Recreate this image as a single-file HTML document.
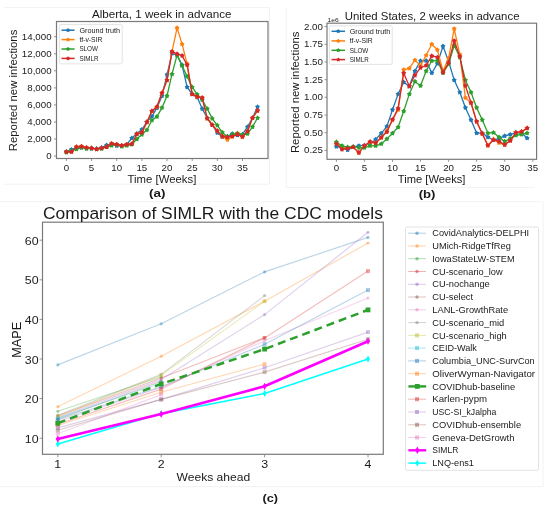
<!DOCTYPE html>
<html><head><meta charset="utf-8"><title>SIMLR figure</title>
<style>
html,body{margin:0;padding:0;background:#fff;}
body{width:550px;height:507px;overflow:hidden;font-family:"Liberation Sans", sans-serif;}
svg{display:block;filter:blur(0.3px);}
</style></head><body>
<svg width="550" height="507" viewBox="0 0 550 507" font-family='"Liberation Sans", sans-serif'>
<rect width="550" height="507" fill="#ffffff"/>
<g stroke="#f0f0f0" stroke-width="0.9" fill="none">
<line x1="4" y1="7.6" x2="269.5" y2="7.6"/>
<line x1="269.5" y1="7.6" x2="269.5" y2="184"/>
<line x1="4" y1="184.2" x2="269.5" y2="184.2"/>
<line x1="286.3" y1="7.6" x2="286.3" y2="187.5"/>
<line x1="286.3" y1="187.5" x2="535" y2="187.5"/>
<line x1="0" y1="201.7" x2="541" y2="201.7"/>
<line x1="0" y1="486.6" x2="543" y2="486.6"/>
<line x1="543" y1="201.7" x2="543" y2="486.6"/>
</g>
<defs>
<clipPath id="clipA"><rect x="56.5" y="21.5" width="211.5" height="137.0"/></clipPath>
<clipPath id="clipB"><rect x="327.0" y="23.2" width="209.60000000000002" height="136.10000000000002"/></clipPath>
<clipPath id="clipC"><rect x="42.5" y="222.2" width="340.8" height="232.10000000000002"/></clipPath>
</defs>
<g clip-path="url(#clipA)">
<polyline points="66.4,151.5 71.4,149.5 76.5,147.6 81.5,147.6 86.5,148.2 91.6,148.7 96.6,148.7 101.6,147.6 106.6,145.1 111.7,144.0 116.7,145.8 121.7,145.8 126.8,144.5 131.8,138.2 136.8,133.6 141.9,129.5 146.9,121.8 151.9,116.3 156.9,107.9 162.0,95.9 167.0,74.8 172.0,53.4 177.1,55.1 182.1,65.1 187.1,87.1 192.2,94.0 197.2,97.3 202.2,108.8 207.2,118.0 212.3,125.0 217.3,132.8 222.3,136.8 227.4,136.4 232.4,133.8 237.4,135.2 242.5,134.4 247.5,126.9 252.5,118.0 257.5,106.8" fill="none" stroke="#1f77b4" stroke-width="1.3" stroke-linejoin="round" stroke-linecap="round"/>
<polygon points="66.40,148.90 67.44,150.07 68.87,150.69 68.08,152.04 67.93,153.60 66.40,153.26 64.87,153.60 64.72,152.04 63.93,150.69 65.36,150.07" fill="#1f77b4"/>
<polygon points="71.43,146.94 72.47,148.11 73.90,148.73 73.11,150.08 72.96,151.64 71.43,151.30 69.90,151.64 69.75,150.08 68.96,148.73 70.39,148.11" fill="#1f77b4"/>
<polygon points="76.46,144.97 77.50,146.14 78.93,146.77 78.14,148.12 77.99,149.68 76.46,149.34 74.93,149.68 74.78,148.12 73.99,146.77 75.42,146.14" fill="#1f77b4"/>
<polygon points="81.49,144.97 82.53,146.14 83.96,146.77 83.17,148.12 83.02,149.68 81.49,149.34 79.96,149.68 79.81,148.12 79.02,146.77 80.45,146.14" fill="#1f77b4"/>
<polygon points="86.52,145.57 87.56,146.74 88.99,147.37 88.20,148.72 88.05,150.28 86.52,149.94 84.99,150.28 84.84,148.72 84.05,147.37 85.48,146.74" fill="#1f77b4"/>
<polygon points="91.55,146.08 92.59,147.25 94.02,147.88 93.23,149.23 93.08,150.79 91.55,150.45 90.02,150.79 89.87,149.23 89.08,147.88 90.51,147.25" fill="#1f77b4"/>
<polygon points="96.58,146.08 97.62,147.25 99.05,147.88 98.26,149.23 98.11,150.79 96.58,150.45 95.05,150.79 94.90,149.23 94.11,147.88 95.54,147.25" fill="#1f77b4"/>
<polygon points="101.61,144.97 102.65,146.14 104.08,146.77 103.29,148.12 103.14,149.68 101.61,149.34 100.08,149.68 99.93,148.12 99.14,146.77 100.57,146.14" fill="#1f77b4"/>
<polygon points="106.64,142.50 107.68,143.67 109.11,144.30 108.32,145.65 108.17,147.21 106.64,146.87 105.11,147.21 104.96,145.65 104.17,144.30 105.60,143.67" fill="#1f77b4"/>
<polygon points="111.67,141.39 112.71,142.56 114.14,143.19 113.35,144.54 113.20,146.10 111.67,145.76 110.14,146.10 109.99,144.54 109.20,143.19 110.63,142.56" fill="#1f77b4"/>
<polygon points="116.70,143.18 117.74,144.35 119.17,144.98 118.38,146.33 118.23,147.89 116.70,147.55 115.17,147.89 115.02,146.33 114.23,144.98 115.66,144.35" fill="#1f77b4"/>
<polygon points="121.73,143.18 122.77,144.35 124.20,144.98 123.41,146.33 123.26,147.89 121.73,147.55 120.20,147.89 120.05,146.33 119.26,144.98 120.69,144.35" fill="#1f77b4"/>
<polygon points="126.76,141.91 127.80,143.08 129.23,143.70 128.44,145.05 128.29,146.61 126.76,146.27 125.23,146.61 125.08,145.05 124.29,143.70 125.72,143.08" fill="#1f77b4"/>
<polygon points="131.79,135.60 132.83,136.77 134.26,137.39 133.47,138.74 133.32,140.30 131.79,139.97 130.26,140.30 130.11,138.74 129.32,137.39 130.75,136.77" fill="#1f77b4"/>
<polygon points="136.82,130.99 137.86,132.16 139.29,132.79 138.50,134.14 138.35,135.70 136.82,135.36 135.29,135.70 135.14,134.14 134.35,132.79 135.78,132.16" fill="#1f77b4"/>
<polygon points="141.85,126.90 142.89,128.07 144.32,128.70 143.53,130.05 143.38,131.61 141.85,131.27 140.32,131.61 140.17,130.05 139.38,128.70 140.81,128.07" fill="#1f77b4"/>
<polygon points="146.88,119.23 147.92,120.40 149.35,121.03 148.56,122.38 148.41,123.93 146.88,123.60 145.35,123.93 145.20,122.38 144.41,121.03 145.84,120.40" fill="#1f77b4"/>
<polygon points="151.91,113.69 152.95,114.86 154.38,115.48 153.59,116.83 153.44,118.39 151.91,118.06 150.38,118.39 150.23,116.83 149.44,115.48 150.87,114.86" fill="#1f77b4"/>
<polygon points="156.94,105.33 157.98,106.50 159.41,107.13 158.62,108.48 158.47,110.04 156.94,109.70 155.41,110.04 155.26,108.48 154.47,107.13 155.90,106.50" fill="#1f77b4"/>
<polygon points="161.97,93.31 163.01,94.48 164.44,95.11 163.65,96.46 163.50,98.02 161.97,97.68 160.44,98.02 160.29,96.46 159.50,95.11 160.93,94.48" fill="#1f77b4"/>
<polygon points="167.00,72.17 168.04,73.34 169.47,73.97 168.68,75.32 168.53,76.87 167.00,76.54 165.47,76.87 165.32,75.32 164.53,73.97 165.96,73.34" fill="#1f77b4"/>
<polygon points="172.03,50.77 173.07,51.94 174.50,52.57 173.71,53.92 173.56,55.48 172.03,55.14 170.50,55.48 170.35,53.92 169.56,52.57 170.99,51.94" fill="#1f77b4"/>
<polygon points="177.06,52.48 178.10,53.65 179.53,54.28 178.74,55.63 178.59,57.18 177.06,56.85 175.53,57.18 175.38,55.63 174.59,54.28 176.02,53.65" fill="#1f77b4"/>
<polygon points="182.09,62.45 183.13,63.62 184.56,64.25 183.77,65.60 183.62,67.16 182.09,66.82 180.56,67.16 180.41,65.60 179.62,64.25 181.05,63.62" fill="#1f77b4"/>
<polygon points="187.12,84.53 188.16,85.70 189.59,86.33 188.80,87.68 188.65,89.24 187.12,88.90 185.59,89.24 185.44,87.68 184.65,86.33 186.08,85.70" fill="#1f77b4"/>
<polygon points="192.15,91.44 193.19,92.61 194.62,93.23 193.83,94.58 193.68,96.14 192.15,95.81 190.62,96.14 190.47,94.58 189.68,93.23 191.11,92.61" fill="#1f77b4"/>
<polygon points="197.18,94.68 198.22,95.85 199.65,96.47 198.86,97.82 198.71,99.38 197.18,99.05 195.65,99.38 195.50,97.82 194.71,96.47 196.14,95.85" fill="#1f77b4"/>
<polygon points="202.21,106.19 203.25,107.36 204.68,107.98 203.89,109.33 203.74,110.89 202.21,110.55 200.68,110.89 200.53,109.33 199.74,107.98 201.17,107.36" fill="#1f77b4"/>
<polygon points="207.24,115.39 208.28,116.56 209.71,117.19 208.92,118.54 208.77,120.10 207.24,119.76 205.71,120.10 205.56,118.54 204.77,117.19 206.20,116.56" fill="#1f77b4"/>
<polygon points="212.27,122.38 213.31,123.55 214.74,124.18 213.95,125.53 213.80,127.09 212.27,126.75 210.74,127.09 210.59,125.53 209.80,124.18 211.23,123.55" fill="#1f77b4"/>
<polygon points="217.30,130.23 218.34,131.40 219.77,132.02 218.98,133.37 218.83,134.93 217.30,134.59 215.77,134.93 215.62,133.37 214.83,132.02 216.26,131.40" fill="#1f77b4"/>
<polygon points="222.33,134.23 223.37,135.40 224.80,136.03 224.01,137.38 223.86,138.94 222.33,138.60 220.80,138.94 220.65,137.38 219.86,136.03 221.29,135.40" fill="#1f77b4"/>
<polygon points="227.36,133.81 228.40,134.98 229.83,135.60 229.04,136.95 228.89,138.51 227.36,138.18 225.83,138.51 225.68,136.95 224.89,135.60 226.32,134.98" fill="#1f77b4"/>
<polygon points="232.39,131.16 233.43,132.33 234.86,132.96 234.07,134.31 233.92,135.87 232.39,135.53 230.86,135.87 230.71,134.31 229.92,132.96 231.35,132.33" fill="#1f77b4"/>
<polygon points="237.42,132.61 238.46,133.78 239.89,134.41 239.10,135.76 238.95,137.32 237.42,136.98 235.89,137.32 235.74,135.76 234.95,134.41 236.38,133.78" fill="#1f77b4"/>
<polygon points="242.45,131.76 243.49,132.93 244.92,133.56 244.13,134.91 243.98,136.46 242.45,136.13 240.92,136.46 240.77,134.91 239.98,133.56 241.41,132.93" fill="#1f77b4"/>
<polygon points="247.48,124.26 248.52,125.43 249.95,126.06 249.16,127.41 249.01,128.96 247.48,128.63 245.95,128.96 245.80,127.41 245.01,126.06 246.44,125.43" fill="#1f77b4"/>
<polygon points="252.51,115.39 253.55,116.56 254.98,117.19 254.19,118.54 254.04,120.10 252.51,119.76 250.98,120.10 250.83,118.54 250.04,117.19 251.47,116.56" fill="#1f77b4"/>
<polygon points="257.54,104.23 258.58,105.40 260.01,106.02 259.22,107.37 259.07,108.93 257.54,108.59 256.01,108.93 255.86,107.37 255.07,106.02 256.50,105.40" fill="#1f77b4"/>
<polyline points="66.4,151.8 71.4,151.8 76.5,146.9 81.5,146.4 86.5,147.6 91.6,148.2 96.6,149.1 101.6,148.2 106.6,146.9 111.7,143.6 116.7,144.5 121.7,145.5 126.8,144.5 131.8,144.0 136.8,134.2 141.9,132.4 146.9,122.2 151.9,111.1 156.9,106.8 162.0,93.0 167.0,80.2 172.0,51.6 177.1,27.9 182.1,44.1 187.1,63.8 192.2,94.2 197.2,96.8 202.2,97.8 207.2,118.4 212.3,125.0 217.3,130.9 222.3,136.4 227.4,139.7 232.4,136.4 237.4,133.2 242.5,136.8 247.5,131.3 252.5,118.0 257.5,110.7" fill="none" stroke="#ff7f0e" stroke-width="1.3" stroke-linejoin="round" stroke-linecap="round"/>
<polygon points="66.40,149.24 67.44,150.41 68.87,151.03 68.08,152.38 67.93,153.94 66.40,153.61 64.87,153.94 64.72,152.38 63.93,151.03 65.36,150.41" fill="#ff7f0e"/>
<polygon points="71.43,149.24 72.47,150.41 73.90,151.03 73.11,152.38 72.96,153.94 71.43,153.61 69.90,153.94 69.75,152.38 68.96,151.03 70.39,150.41" fill="#ff7f0e"/>
<polygon points="76.46,144.29 77.50,145.46 78.93,146.09 78.14,147.44 77.99,149.00 76.46,148.66 74.93,149.00 74.78,147.44 73.99,146.09 75.42,145.46" fill="#ff7f0e"/>
<polygon points="81.49,143.78 82.53,144.95 83.96,145.58 83.17,146.93 83.02,148.48 81.49,148.15 79.96,148.48 79.81,146.93 79.02,145.58 80.45,144.95" fill="#ff7f0e"/>
<polygon points="86.52,144.97 87.56,146.14 88.99,146.77 88.20,148.12 88.05,149.68 86.52,149.34 84.99,149.68 84.84,148.12 84.05,146.77 85.48,146.14" fill="#ff7f0e"/>
<polygon points="91.55,145.57 92.59,146.74 94.02,147.37 93.23,148.72 93.08,150.28 91.55,149.94 90.02,150.28 89.87,148.72 89.08,147.37 90.51,146.74" fill="#ff7f0e"/>
<polygon points="96.58,146.51 97.62,147.68 99.05,148.31 98.26,149.66 98.11,151.21 96.58,150.88 95.05,151.21 94.90,149.66 94.11,148.31 95.54,147.68" fill="#ff7f0e"/>
<polygon points="101.61,145.57 102.65,146.74 104.08,147.37 103.29,148.72 103.14,150.28 101.61,149.94 100.08,150.28 99.93,148.72 99.14,147.37 100.57,146.74" fill="#ff7f0e"/>
<polygon points="106.64,144.29 107.68,145.46 109.11,146.09 108.32,147.44 108.17,149.00 106.64,148.66 105.11,149.00 104.96,147.44 104.17,146.09 105.60,145.46" fill="#ff7f0e"/>
<polygon points="111.67,140.97 112.71,142.14 114.14,142.76 113.35,144.11 113.20,145.67 111.67,145.34 110.14,145.67 109.99,144.11 109.20,142.76 110.63,142.14" fill="#ff7f0e"/>
<polygon points="116.70,141.91 117.74,143.08 119.17,143.70 118.38,145.05 118.23,146.61 116.70,146.27 115.17,146.61 115.02,145.05 114.23,143.70 115.66,143.08" fill="#ff7f0e"/>
<polygon points="121.73,142.93 122.77,144.10 124.20,144.73 123.41,146.08 123.26,147.63 121.73,147.30 120.20,147.63 120.05,146.08 119.26,144.73 120.69,144.10" fill="#ff7f0e"/>
<polygon points="126.76,141.91 127.80,143.08 129.23,143.70 128.44,145.05 128.29,146.61 126.76,146.27 125.23,146.61 125.08,145.05 124.29,143.70 125.72,143.08" fill="#ff7f0e"/>
<polygon points="131.79,141.39 132.83,142.56 134.26,143.19 133.47,144.54 133.32,146.10 131.79,145.76 130.26,146.10 130.11,144.54 129.32,143.19 130.75,142.56" fill="#ff7f0e"/>
<polygon points="136.82,131.59 137.86,132.76 139.29,133.39 138.50,134.74 138.35,136.29 136.82,135.96 135.29,136.29 135.14,134.74 134.35,133.39 135.78,132.76" fill="#ff7f0e"/>
<polygon points="141.85,129.80 142.89,130.97 144.32,131.60 143.53,132.95 143.38,134.50 141.85,134.17 140.32,134.50 140.17,132.95 139.38,131.60 140.81,130.97" fill="#ff7f0e"/>
<polygon points="146.88,119.57 147.92,120.74 149.35,121.37 148.56,122.72 148.41,124.27 146.88,123.94 145.35,124.27 145.20,122.72 144.41,121.37 145.84,120.74" fill="#ff7f0e"/>
<polygon points="151.91,108.49 152.95,109.66 154.38,110.28 153.59,111.63 153.44,113.19 151.91,112.86 150.38,113.19 150.23,111.63 149.44,110.28 150.87,109.66" fill="#ff7f0e"/>
<polygon points="156.94,104.23 157.98,105.40 159.41,106.02 158.62,107.37 158.47,108.93 156.94,108.59 155.41,108.93 155.26,107.37 154.47,106.02 155.90,105.40" fill="#ff7f0e"/>
<polygon points="161.97,90.41 163.01,91.58 164.44,92.21 163.65,93.56 163.50,95.12 161.97,94.78 160.44,95.12 160.29,93.56 159.50,92.21 160.93,91.58" fill="#ff7f0e"/>
<polygon points="167.00,77.63 168.04,78.80 169.47,79.42 168.68,80.77 168.53,82.33 167.00,82.00 165.47,82.33 165.32,80.77 164.53,79.42 165.96,78.80" fill="#ff7f0e"/>
<polygon points="172.03,48.98 173.07,50.15 174.50,50.78 173.71,52.13 173.56,53.69 172.03,53.35 170.50,53.69 170.35,52.13 169.56,50.78 170.99,50.15" fill="#ff7f0e"/>
<polygon points="177.06,25.28 178.10,26.45 179.53,27.08 178.74,28.43 178.59,29.99 177.06,29.65 175.53,29.99 175.38,28.43 174.59,27.08 176.02,26.45" fill="#ff7f0e"/>
<polygon points="182.09,41.48 183.13,42.65 184.56,43.28 183.77,44.63 183.62,46.18 182.09,45.85 180.56,46.18 180.41,44.63 179.62,43.28 181.05,42.65" fill="#ff7f0e"/>
<polygon points="187.12,61.17 188.16,62.34 189.59,62.97 188.80,64.32 188.65,65.88 187.12,65.54 185.59,65.88 185.44,64.32 184.65,62.97 186.08,62.34" fill="#ff7f0e"/>
<polygon points="192.15,91.61 193.19,92.78 194.62,93.41 193.83,94.75 193.68,96.31 192.15,95.98 190.62,96.31 190.47,94.75 189.68,93.41 191.11,92.78" fill="#ff7f0e"/>
<polygon points="197.18,94.17 198.22,95.34 199.65,95.96 198.86,97.31 198.71,98.87 197.18,98.53 195.65,98.87 195.50,97.31 194.71,95.96 196.14,95.34" fill="#ff7f0e"/>
<polygon points="202.21,95.19 203.25,96.36 204.68,96.99 203.89,98.34 203.74,99.89 202.21,99.56 200.68,99.89 200.53,98.34 199.74,96.99 201.17,96.36" fill="#ff7f0e"/>
<polygon points="207.24,115.82 208.28,116.99 209.71,117.62 208.92,118.97 208.77,120.52 207.24,120.19 205.71,120.52 205.56,118.97 204.77,117.62 206.20,116.99" fill="#ff7f0e"/>
<polygon points="212.27,122.38 213.31,123.55 214.74,124.18 213.95,125.53 213.80,127.09 212.27,126.75 210.74,127.09 210.59,125.53 209.80,124.18 211.23,123.55" fill="#ff7f0e"/>
<polygon points="217.30,128.27 218.34,129.44 219.77,130.06 218.98,131.41 218.83,132.97 217.30,132.63 215.77,132.97 215.62,131.41 214.83,130.06 216.26,129.44" fill="#ff7f0e"/>
<polygon points="222.33,133.81 223.37,134.98 224.80,135.60 224.01,136.95 223.86,138.51 222.33,138.18 220.80,138.51 220.65,136.95 219.86,135.60 221.29,134.98" fill="#ff7f0e"/>
<polygon points="227.36,137.13 228.40,138.30 229.83,138.93 229.04,140.28 228.89,141.84 227.36,141.50 225.83,141.84 225.68,140.28 224.89,138.93 226.32,138.30" fill="#ff7f0e"/>
<polygon points="232.39,133.81 233.43,134.98 234.86,135.60 234.07,136.95 233.92,138.51 232.39,138.18 230.86,138.51 230.71,136.95 229.92,135.60 231.35,134.98" fill="#ff7f0e"/>
<polygon points="237.42,130.57 238.46,131.74 239.89,132.36 239.10,133.71 238.95,135.27 237.42,134.94 235.89,135.27 235.74,133.71 234.95,132.36 236.38,131.74" fill="#ff7f0e"/>
<polygon points="242.45,134.23 243.49,135.40 244.92,136.03 244.13,137.38 243.98,138.94 242.45,138.60 240.92,138.94 240.77,137.38 239.98,136.03 241.41,135.40" fill="#ff7f0e"/>
<polygon points="247.48,128.69 248.52,129.86 249.95,130.49 249.16,131.84 249.01,133.40 247.48,133.06 245.95,133.40 245.80,131.84 245.01,130.49 246.44,129.86" fill="#ff7f0e"/>
<polygon points="252.51,115.39 253.55,116.56 254.98,117.19 254.19,118.54 254.04,120.10 252.51,119.76 250.98,120.10 250.83,118.54 250.04,117.19 251.47,116.56" fill="#ff7f0e"/>
<polygon points="257.54,108.06 258.58,109.23 260.01,109.86 259.22,111.21 259.07,112.77 257.54,112.43 256.01,112.77 255.86,111.21 255.07,109.86 256.50,109.23" fill="#ff7f0e"/>
<polyline points="66.4,152.4 71.4,150.9 76.5,149.1 81.5,147.6 86.5,148.7 91.6,148.2 96.6,149.1 101.6,148.7 106.6,146.9 111.7,145.5 116.7,144.5 121.7,146.4 126.8,145.5 131.8,144.5 136.8,139.1 141.9,134.5 146.9,130.0 151.9,120.3 156.9,116.6 162.0,107.8 167.0,95.9 172.0,74.1 177.1,54.9 182.1,65.7 187.1,76.4 192.2,87.1 197.2,94.4 202.2,99.8 207.2,108.8 212.3,118.6 217.3,125.3 222.3,132.4 227.4,136.8 232.4,134.4 237.4,133.8 242.5,134.8 247.5,133.8 252.5,126.9 257.5,118.0" fill="none" stroke="#2ca02c" stroke-width="1.3" stroke-linejoin="round" stroke-linecap="round"/>
<polygon points="66.40,149.83 67.44,151.00 68.87,151.63 68.08,152.98 67.93,154.54 66.40,154.20 64.87,154.54 64.72,152.98 63.93,151.63 65.36,151.00" fill="#2ca02c"/>
<polygon points="71.43,148.30 72.47,149.47 73.90,150.10 73.11,151.45 72.96,153.00 71.43,152.67 69.90,153.00 69.75,151.45 68.96,150.10 70.39,149.47" fill="#2ca02c"/>
<polygon points="76.46,146.51 77.50,147.68 78.93,148.31 78.14,149.66 77.99,151.21 76.46,150.88 74.93,151.21 74.78,149.66 73.99,148.31 75.42,147.68" fill="#2ca02c"/>
<polygon points="81.49,144.97 82.53,146.14 83.96,146.77 83.17,148.12 83.02,149.68 81.49,149.34 79.96,149.68 79.81,148.12 79.02,146.77 80.45,146.14" fill="#2ca02c"/>
<polygon points="86.52,146.08 87.56,147.25 88.99,147.88 88.20,149.23 88.05,150.79 86.52,150.45 84.99,150.79 84.84,149.23 84.05,147.88 85.48,147.25" fill="#2ca02c"/>
<polygon points="91.55,145.57 92.59,146.74 94.02,147.37 93.23,148.72 93.08,150.28 91.55,149.94 90.02,150.28 89.87,148.72 89.08,147.37 90.51,146.74" fill="#2ca02c"/>
<polygon points="96.58,146.51 97.62,147.68 99.05,148.31 98.26,149.66 98.11,151.21 96.58,150.88 95.05,151.21 94.90,149.66 94.11,148.31 95.54,147.68" fill="#2ca02c"/>
<polygon points="101.61,146.08 102.65,147.25 104.08,147.88 103.29,149.23 103.14,150.79 101.61,150.45 100.08,150.79 99.93,149.23 99.14,147.88 100.57,147.25" fill="#2ca02c"/>
<polygon points="106.64,144.29 107.68,145.46 109.11,146.09 108.32,147.44 108.17,149.00 106.64,148.66 105.11,149.00 104.96,147.44 104.17,146.09 105.60,145.46" fill="#2ca02c"/>
<polygon points="111.67,142.93 112.71,144.10 114.14,144.73 113.35,146.08 113.20,147.63 111.67,147.30 110.14,147.63 109.99,146.08 109.20,144.73 110.63,144.10" fill="#2ca02c"/>
<polygon points="116.70,141.91 117.74,143.08 119.17,143.70 118.38,145.05 118.23,146.61 116.70,146.27 115.17,146.61 115.02,145.05 114.23,143.70 115.66,143.08" fill="#2ca02c"/>
<polygon points="121.73,143.78 122.77,144.95 124.20,145.58 123.41,146.93 123.26,148.48 121.73,148.15 120.20,148.48 120.05,146.93 119.26,145.58 120.69,144.95" fill="#2ca02c"/>
<polygon points="126.76,142.93 127.80,144.10 129.23,144.73 128.44,146.08 128.29,147.63 126.76,147.30 125.23,147.63 125.08,146.08 124.29,144.73 125.72,144.10" fill="#2ca02c"/>
<polygon points="131.79,141.91 132.83,143.08 134.26,143.70 133.47,145.05 133.32,146.61 131.79,146.27 130.26,146.61 130.11,145.05 129.32,143.70 130.75,143.08" fill="#2ca02c"/>
<polygon points="136.82,136.54 137.86,137.70 139.29,138.33 138.50,139.68 138.35,141.24 136.82,140.90 135.29,141.24 135.14,139.68 134.35,138.33 135.78,137.70" fill="#2ca02c"/>
<polygon points="141.85,131.93 142.89,133.10 144.32,133.73 143.53,135.08 143.38,136.64 141.85,136.30 140.32,136.64 140.17,135.08 139.38,133.73 140.81,133.10" fill="#2ca02c"/>
<polygon points="146.88,127.41 147.92,128.58 149.35,129.21 148.56,130.56 148.41,132.12 146.88,131.78 145.35,132.12 145.20,130.56 144.41,129.21 145.84,128.58" fill="#2ca02c"/>
<polygon points="151.91,117.69 152.95,118.86 154.38,119.49 153.59,120.84 153.44,122.40 151.91,122.06 150.38,122.40 150.23,120.84 149.44,119.49 150.87,118.86" fill="#2ca02c"/>
<polygon points="156.94,114.03 157.98,115.20 159.41,115.83 158.62,117.18 158.47,118.73 156.94,118.40 155.41,118.73 155.26,117.18 154.47,115.83 155.90,115.20" fill="#2ca02c"/>
<polygon points="161.97,105.16 163.01,106.33 164.44,106.96 163.65,108.31 163.50,109.87 161.97,109.53 160.44,109.87 160.29,108.31 159.50,106.96 160.93,106.33" fill="#2ca02c"/>
<polygon points="167.00,93.31 168.04,94.48 169.47,95.11 168.68,96.46 168.53,98.02 167.00,97.68 165.47,98.02 165.32,96.46 164.53,95.11 165.96,94.48" fill="#2ca02c"/>
<polygon points="172.03,71.49 173.07,72.66 174.50,73.29 173.71,74.64 173.56,76.19 172.03,75.86 170.50,76.19 170.35,74.64 169.56,73.29 170.99,72.66" fill="#2ca02c"/>
<polygon points="177.06,52.31 178.10,53.48 179.53,54.10 178.74,55.45 178.59,57.01 177.06,56.68 175.53,57.01 175.38,55.45 174.59,54.10 176.02,53.48" fill="#2ca02c"/>
<polygon points="182.09,63.13 183.13,64.30 184.56,64.93 183.77,66.28 183.62,67.84 182.09,67.50 180.56,67.84 180.41,66.28 179.62,64.93 181.05,64.30" fill="#2ca02c"/>
<polygon points="187.12,73.79 188.16,74.96 189.59,75.59 188.80,76.94 188.65,78.49 187.12,78.16 185.59,78.49 185.44,76.94 184.65,75.59 186.08,74.96" fill="#2ca02c"/>
<polygon points="192.15,84.53 193.19,85.70 194.62,86.33 193.83,87.68 193.68,89.24 192.15,88.90 190.62,89.24 190.47,87.68 189.68,86.33 191.11,85.70" fill="#2ca02c"/>
<polygon points="197.18,91.78 198.22,92.95 199.65,93.58 198.86,94.93 198.71,96.48 197.18,96.15 195.65,96.48 195.50,94.93 194.71,93.58 196.14,92.95" fill="#2ca02c"/>
<polygon points="202.21,97.23 203.25,98.40 204.68,99.03 203.89,100.38 203.74,101.94 202.21,101.60 200.68,101.94 200.53,100.38 199.74,99.03 201.17,98.40" fill="#2ca02c"/>
<polygon points="207.24,106.19 208.28,107.36 209.71,107.98 208.92,109.33 208.77,110.89 207.24,110.55 205.71,110.89 205.56,109.33 204.77,107.98 206.20,107.36" fill="#2ca02c"/>
<polygon points="212.27,115.99 213.31,117.16 214.74,117.79 213.95,119.14 213.80,120.69 212.27,120.36 210.74,120.69 210.59,119.14 209.80,117.79 211.23,117.16" fill="#2ca02c"/>
<polygon points="217.30,122.72 218.34,123.89 219.77,124.52 218.98,125.87 218.83,127.43 217.30,127.09 215.77,127.43 215.62,125.87 214.83,124.52 216.26,123.89" fill="#2ca02c"/>
<polygon points="222.33,129.80 223.37,130.97 224.80,131.60 224.01,132.95 223.86,134.50 222.33,134.17 220.80,134.50 220.65,132.95 219.86,131.60 221.29,130.97" fill="#2ca02c"/>
<polygon points="227.36,134.23 228.40,135.40 229.83,136.03 229.04,137.38 228.89,138.94 227.36,138.60 225.83,138.94 225.68,137.38 224.89,136.03 226.32,135.40" fill="#2ca02c"/>
<polygon points="232.39,131.76 233.43,132.93 234.86,133.56 234.07,134.91 233.92,136.46 232.39,136.13 230.86,136.46 230.71,134.91 229.92,133.56 231.35,132.93" fill="#2ca02c"/>
<polygon points="237.42,131.16 238.46,132.33 239.89,132.96 239.10,134.31 238.95,135.87 237.42,135.53 235.89,135.87 235.74,134.31 234.95,132.96 236.38,132.33" fill="#2ca02c"/>
<polygon points="242.45,132.19 243.49,133.36 244.92,133.98 244.13,135.33 243.98,136.89 242.45,136.56 240.92,136.89 240.77,135.33 239.98,133.98 241.41,133.36" fill="#2ca02c"/>
<polygon points="247.48,131.16 248.52,132.33 249.95,132.96 249.16,134.31 249.01,135.87 247.48,135.53 245.95,135.87 245.80,134.31 245.01,132.96 246.44,132.33" fill="#2ca02c"/>
<polygon points="252.51,124.26 253.55,125.43 254.98,126.06 254.19,127.41 254.04,128.96 252.51,128.63 250.98,128.96 250.83,127.41 250.04,126.06 251.47,125.43" fill="#2ca02c"/>
<polygon points="257.54,115.39 258.58,116.56 260.01,117.19 259.22,118.54 259.07,120.10 257.54,119.76 256.01,120.10 255.86,118.54 255.07,117.19 256.50,116.56" fill="#2ca02c"/>
<polyline points="66.4,151.8 71.4,151.8 76.5,146.9 81.5,146.4 86.5,147.6 91.6,148.2 96.6,149.1 101.6,148.2 106.6,146.9 111.7,143.6 116.7,144.5 121.7,145.5 126.8,144.5 131.8,144.0 136.8,134.2 141.9,132.4 146.9,122.2 151.9,111.1 156.9,106.8 162.0,93.0 167.0,80.2 172.0,51.7 177.1,53.9 182.1,55.7 187.1,64.9 192.2,94.2 197.2,96.8 202.2,97.8 207.2,118.4 212.3,125.0 217.3,130.9 222.3,136.4 227.4,137.2 232.4,136.4 237.4,134.4 242.5,136.8 247.5,131.3 252.5,118.0 257.5,110.7" fill="none" stroke="#d62728" stroke-width="1.3" stroke-linejoin="round" stroke-linecap="round"/>
<polygon points="66.40,149.24 67.44,150.41 68.87,151.03 68.08,152.38 67.93,153.94 66.40,153.61 64.87,153.94 64.72,152.38 63.93,151.03 65.36,150.41" fill="#d62728"/>
<polygon points="71.43,149.24 72.47,150.41 73.90,151.03 73.11,152.38 72.96,153.94 71.43,153.61 69.90,153.94 69.75,152.38 68.96,151.03 70.39,150.41" fill="#d62728"/>
<polygon points="76.46,144.29 77.50,145.46 78.93,146.09 78.14,147.44 77.99,149.00 76.46,148.66 74.93,149.00 74.78,147.44 73.99,146.09 75.42,145.46" fill="#d62728"/>
<polygon points="81.49,143.78 82.53,144.95 83.96,145.58 83.17,146.93 83.02,148.48 81.49,148.15 79.96,148.48 79.81,146.93 79.02,145.58 80.45,144.95" fill="#d62728"/>
<polygon points="86.52,144.97 87.56,146.14 88.99,146.77 88.20,148.12 88.05,149.68 86.52,149.34 84.99,149.68 84.84,148.12 84.05,146.77 85.48,146.14" fill="#d62728"/>
<polygon points="91.55,145.57 92.59,146.74 94.02,147.37 93.23,148.72 93.08,150.28 91.55,149.94 90.02,150.28 89.87,148.72 89.08,147.37 90.51,146.74" fill="#d62728"/>
<polygon points="96.58,146.51 97.62,147.68 99.05,148.31 98.26,149.66 98.11,151.21 96.58,150.88 95.05,151.21 94.90,149.66 94.11,148.31 95.54,147.68" fill="#d62728"/>
<polygon points="101.61,145.57 102.65,146.74 104.08,147.37 103.29,148.72 103.14,150.28 101.61,149.94 100.08,150.28 99.93,148.72 99.14,147.37 100.57,146.74" fill="#d62728"/>
<polygon points="106.64,144.29 107.68,145.46 109.11,146.09 108.32,147.44 108.17,149.00 106.64,148.66 105.11,149.00 104.96,147.44 104.17,146.09 105.60,145.46" fill="#d62728"/>
<polygon points="111.67,140.97 112.71,142.14 114.14,142.76 113.35,144.11 113.20,145.67 111.67,145.34 110.14,145.67 109.99,144.11 109.20,142.76 110.63,142.14" fill="#d62728"/>
<polygon points="116.70,141.91 117.74,143.08 119.17,143.70 118.38,145.05 118.23,146.61 116.70,146.27 115.17,146.61 115.02,145.05 114.23,143.70 115.66,143.08" fill="#d62728"/>
<polygon points="121.73,142.93 122.77,144.10 124.20,144.73 123.41,146.08 123.26,147.63 121.73,147.30 120.20,147.63 120.05,146.08 119.26,144.73 120.69,144.10" fill="#d62728"/>
<polygon points="126.76,141.91 127.80,143.08 129.23,143.70 128.44,145.05 128.29,146.61 126.76,146.27 125.23,146.61 125.08,145.05 124.29,143.70 125.72,143.08" fill="#d62728"/>
<polygon points="131.79,141.39 132.83,142.56 134.26,143.19 133.47,144.54 133.32,146.10 131.79,145.76 130.26,146.10 130.11,144.54 129.32,143.19 130.75,142.56" fill="#d62728"/>
<polygon points="136.82,131.59 137.86,132.76 139.29,133.39 138.50,134.74 138.35,136.29 136.82,135.96 135.29,136.29 135.14,134.74 134.35,133.39 135.78,132.76" fill="#d62728"/>
<polygon points="141.85,129.80 142.89,130.97 144.32,131.60 143.53,132.95 143.38,134.50 141.85,134.17 140.32,134.50 140.17,132.95 139.38,131.60 140.81,130.97" fill="#d62728"/>
<polygon points="146.88,119.57 147.92,120.74 149.35,121.37 148.56,122.72 148.41,124.27 146.88,123.94 145.35,124.27 145.20,122.72 144.41,121.37 145.84,120.74" fill="#d62728"/>
<polygon points="151.91,108.49 152.95,109.66 154.38,110.28 153.59,111.63 153.44,113.19 151.91,112.86 150.38,113.19 150.23,111.63 149.44,110.28 150.87,109.66" fill="#d62728"/>
<polygon points="156.94,104.23 157.98,105.40 159.41,106.02 158.62,107.37 158.47,108.93 156.94,108.59 155.41,108.93 155.26,107.37 154.47,106.02 155.90,105.40" fill="#d62728"/>
<polygon points="161.97,90.41 163.01,91.58 164.44,92.21 163.65,93.56 163.50,95.12 161.97,94.78 160.44,95.12 160.29,93.56 159.50,92.21 160.93,91.58" fill="#d62728"/>
<polygon points="167.00,77.63 168.04,78.80 169.47,79.42 168.68,80.77 168.53,82.33 167.00,82.00 165.47,82.33 165.32,80.77 164.53,79.42 165.96,78.80" fill="#d62728"/>
<polygon points="172.03,49.07 173.07,50.24 174.50,50.87 173.71,52.22 173.56,53.77 172.03,53.44 170.50,53.77 170.35,52.22 169.56,50.87 170.99,50.24" fill="#d62728"/>
<polygon points="177.06,51.29 178.10,52.45 179.53,53.08 178.74,54.43 178.59,55.99 177.06,55.65 175.53,55.99 175.38,54.43 174.59,53.08 176.02,52.45" fill="#d62728"/>
<polygon points="182.09,53.08 183.13,54.25 184.56,54.87 183.77,56.22 183.62,57.78 182.09,57.44 180.56,57.78 180.41,56.22 179.62,54.87 181.05,54.25" fill="#d62728"/>
<polygon points="187.12,62.28 188.16,63.45 189.59,64.08 188.80,65.43 188.65,66.99 187.12,66.65 185.59,66.99 185.44,65.43 184.65,64.08 186.08,63.45" fill="#d62728"/>
<polygon points="192.15,91.61 193.19,92.78 194.62,93.41 193.83,94.75 193.68,96.31 192.15,95.98 190.62,96.31 190.47,94.75 189.68,93.41 191.11,92.78" fill="#d62728"/>
<polygon points="197.18,94.17 198.22,95.34 199.65,95.96 198.86,97.31 198.71,98.87 197.18,98.53 195.65,98.87 195.50,97.31 194.71,95.96 196.14,95.34" fill="#d62728"/>
<polygon points="202.21,95.19 203.25,96.36 204.68,96.99 203.89,98.34 203.74,99.89 202.21,99.56 200.68,99.89 200.53,98.34 199.74,96.99 201.17,96.36" fill="#d62728"/>
<polygon points="207.24,115.82 208.28,116.99 209.71,117.62 208.92,118.97 208.77,120.52 207.24,120.19 205.71,120.52 205.56,118.97 204.77,117.62 206.20,116.99" fill="#d62728"/>
<polygon points="212.27,122.38 213.31,123.55 214.74,124.18 213.95,125.53 213.80,127.09 212.27,126.75 210.74,127.09 210.59,125.53 209.80,124.18 211.23,123.55" fill="#d62728"/>
<polygon points="217.30,128.27 218.34,129.44 219.77,130.06 218.98,131.41 218.83,132.97 217.30,132.63 215.77,132.97 215.62,131.41 214.83,130.06 216.26,129.44" fill="#d62728"/>
<polygon points="222.33,133.81 223.37,134.98 224.80,135.60 224.01,136.95 223.86,138.51 222.33,138.18 220.80,138.51 220.65,136.95 219.86,135.60 221.29,134.98" fill="#d62728"/>
<polygon points="227.36,134.57 228.40,135.74 229.83,136.37 229.04,137.72 228.89,139.28 227.36,138.94 225.83,139.28 225.68,137.72 224.89,136.37 226.32,135.74" fill="#d62728"/>
<polygon points="232.39,133.81 233.43,134.98 234.86,135.60 234.07,136.95 233.92,138.51 232.39,138.18 230.86,138.51 230.71,136.95 229.92,135.60 231.35,134.98" fill="#d62728"/>
<polygon points="237.42,131.76 238.46,132.93 239.89,133.56 239.10,134.91 238.95,136.46 237.42,136.13 235.89,136.46 235.74,134.91 234.95,133.56 236.38,132.93" fill="#d62728"/>
<polygon points="242.45,134.23 243.49,135.40 244.92,136.03 244.13,137.38 243.98,138.94 242.45,138.60 240.92,138.94 240.77,137.38 239.98,136.03 241.41,135.40" fill="#d62728"/>
<polygon points="247.48,128.69 248.52,129.86 249.95,130.49 249.16,131.84 249.01,133.40 247.48,133.06 245.95,133.40 245.80,131.84 245.01,130.49 246.44,129.86" fill="#d62728"/>
<polygon points="252.51,115.39 253.55,116.56 254.98,117.19 254.19,118.54 254.04,120.10 252.51,119.76 250.98,120.10 250.83,118.54 250.04,117.19 251.47,116.56" fill="#d62728"/>
<polygon points="257.54,108.06 258.58,109.23 260.01,109.86 259.22,111.21 259.07,112.77 257.54,112.43 256.01,112.77 255.86,111.21 255.07,109.86 256.50,109.23" fill="#d62728"/>
</g>
<g clip-path="url(#clipB)">
<polyline points="336.4,146.6 342.0,147.7 347.6,149.9 353.2,147.1 358.8,145.8 364.4,145.2 370.1,143.8 375.7,139.4 381.3,133.3 386.9,126.4 392.5,109.8 398.1,94.1 403.7,82.2 409.3,86.3 414.9,71.1 420.5,60.8 426.2,60.7 431.8,73.0 437.4,63.6 443.0,46.2 448.6,61.4 454.2,80.1 459.8,92.3 465.4,107.7 471.0,119.9 476.6,133.1 482.3,133.1 487.9,137.2 493.5,140.0 499.1,138.6 504.7,135.9 510.3,134.5 515.9,132.6 521.5,133.1 527.1,138.1" fill="none" stroke="#1f77b4" stroke-width="1.3" stroke-linejoin="round" stroke-linecap="round"/>
<polygon points="336.40,143.98 337.44,145.15 338.87,145.78 338.08,147.13 337.93,148.68 336.40,148.35 334.87,148.68 334.72,147.13 333.93,145.78 335.36,145.15" fill="#1f77b4"/>
<polygon points="342.01,145.11 343.05,146.28 344.48,146.91 343.69,148.26 343.54,149.82 342.01,149.48 340.48,149.82 340.33,148.26 339.54,146.91 340.97,146.28" fill="#1f77b4"/>
<polygon points="347.62,147.30 348.66,148.47 350.09,149.10 349.30,150.45 349.15,152.01 347.62,151.67 346.09,152.01 345.94,150.45 345.15,149.10 346.58,148.47" fill="#1f77b4"/>
<polygon points="353.23,144.48 354.27,145.64 355.70,146.27 354.91,147.62 354.76,149.18 353.23,148.84 351.70,149.18 351.55,147.62 350.76,146.27 352.19,145.64" fill="#1f77b4"/>
<polygon points="358.84,143.20 359.88,144.37 361.31,145.00 360.52,146.35 360.37,147.91 358.84,147.57 357.31,147.91 357.16,146.35 356.37,145.00 357.80,144.37" fill="#1f77b4"/>
<polygon points="364.45,142.64 365.49,143.81 366.92,144.43 366.13,145.78 365.98,147.34 364.45,147.00 362.92,147.34 362.77,145.78 361.98,144.43 363.41,143.81" fill="#1f77b4"/>
<polygon points="370.06,141.22 371.10,142.39 372.53,143.02 371.74,144.37 371.59,145.92 370.06,145.59 368.53,145.92 368.38,144.37 367.59,143.02 369.02,142.39" fill="#1f77b4"/>
<polygon points="375.67,136.84 376.71,138.00 378.14,138.63 377.35,139.98 377.20,141.54 375.67,141.20 374.14,141.54 373.99,139.98 373.20,138.63 374.63,138.00" fill="#1f77b4"/>
<polygon points="381.28,130.68 382.32,131.85 383.75,132.48 382.96,133.83 382.81,135.38 381.28,135.05 379.75,135.38 379.60,133.83 378.81,132.48 380.24,131.85" fill="#1f77b4"/>
<polygon points="386.89,123.82 387.93,124.99 389.36,125.62 388.57,126.97 388.42,128.52 386.89,128.19 385.36,128.52 385.21,126.97 384.42,125.62 385.85,124.99" fill="#1f77b4"/>
<polygon points="392.50,107.20 393.54,108.36 394.97,108.99 394.18,110.34 394.03,111.90 392.50,111.56 390.97,111.90 390.82,110.34 390.03,108.99 391.46,108.36" fill="#1f77b4"/>
<polygon points="398.11,91.49 399.15,92.66 400.58,93.29 399.79,94.64 399.64,96.19 398.11,95.86 396.58,96.19 396.43,94.64 395.64,93.29 397.07,92.66" fill="#1f77b4"/>
<polygon points="403.72,79.61 404.76,80.78 406.19,81.40 405.40,82.75 405.25,84.31 403.72,83.97 402.19,84.31 402.04,82.75 401.25,81.40 402.68,80.78" fill="#1f77b4"/>
<polygon points="409.33,83.71 410.37,84.88 411.80,85.51 411.01,86.86 410.86,88.41 409.33,88.08 407.80,88.41 407.65,86.86 406.86,85.51 408.29,84.88" fill="#1f77b4"/>
<polygon points="414.94,68.50 415.98,69.67 417.41,70.30 416.62,71.65 416.47,73.20 414.94,72.87 413.41,73.20 413.26,71.65 412.47,70.30 413.90,69.67" fill="#1f77b4"/>
<polygon points="420.55,58.24 421.59,59.41 423.02,60.04 422.23,61.39 422.08,62.95 420.55,62.61 419.02,62.95 418.87,61.39 418.08,60.04 419.51,59.41" fill="#1f77b4"/>
<polygon points="426.16,58.10 427.20,59.27 428.63,59.90 427.84,61.25 427.69,62.81 426.16,62.47 424.63,62.81 424.48,61.25 423.69,59.90 425.12,59.27" fill="#1f77b4"/>
<polygon points="431.77,70.41 432.81,71.58 434.24,72.21 433.45,73.56 433.30,75.11 431.77,74.78 430.24,75.11 430.09,73.56 429.30,72.21 430.73,71.58" fill="#1f77b4"/>
<polygon points="437.38,61.00 438.42,62.17 439.85,62.80 439.06,64.15 438.91,65.71 437.38,65.37 435.85,65.71 435.70,64.15 434.91,62.80 436.34,62.17" fill="#1f77b4"/>
<polygon points="442.99,43.60 444.03,44.77 445.46,45.40 444.67,46.75 444.52,48.30 442.99,47.97 441.46,48.30 441.31,46.75 440.52,45.40 441.95,44.77" fill="#1f77b4"/>
<polygon points="448.60,58.81 449.64,59.98 451.07,60.61 450.28,61.96 450.13,63.51 448.60,63.18 447.07,63.51 446.92,61.96 446.13,60.61 447.56,59.98" fill="#1f77b4"/>
<polygon points="454.21,77.48 455.25,78.65 456.68,79.28 455.89,80.63 455.74,82.19 454.21,81.85 452.68,82.19 452.53,80.63 451.74,79.28 453.17,78.65" fill="#1f77b4"/>
<polygon points="459.82,89.72 460.86,90.89 462.29,91.52 461.50,92.87 461.35,94.43 459.82,94.09 458.29,94.43 458.14,92.87 457.35,91.52 458.78,90.89" fill="#1f77b4"/>
<polygon points="465.43,105.07 466.47,106.24 467.90,106.87 467.11,108.22 466.96,109.78 465.43,109.44 463.90,109.78 463.75,108.22 462.96,106.87 464.39,106.24" fill="#1f77b4"/>
<polygon points="471.04,117.31 472.08,118.48 473.51,119.11 472.72,120.46 472.57,122.01 471.04,121.68 469.51,122.01 469.36,120.46 468.57,119.11 470.00,118.48" fill="#1f77b4"/>
<polygon points="476.65,130.47 477.69,131.64 479.12,132.27 478.33,133.62 478.18,135.17 476.65,134.84 475.12,135.17 474.97,133.62 474.18,132.27 475.61,131.64" fill="#1f77b4"/>
<polygon points="482.26,130.47 483.30,131.64 484.73,132.27 483.94,133.62 483.79,135.17 482.26,134.84 480.73,135.17 480.58,133.62 479.79,132.27 481.22,131.64" fill="#1f77b4"/>
<polygon points="487.87,134.57 488.91,135.74 490.34,136.37 489.55,137.72 489.40,139.28 487.87,138.94 486.34,139.28 486.19,137.72 485.40,136.37 486.83,135.74" fill="#1f77b4"/>
<polygon points="493.48,137.40 494.52,138.57 495.95,139.20 495.16,140.55 495.01,142.10 493.48,141.77 491.95,142.10 491.80,140.55 491.01,139.20 492.44,138.57" fill="#1f77b4"/>
<polygon points="499.09,135.99 500.13,137.16 501.56,137.78 500.77,139.13 500.62,140.69 499.09,140.35 497.56,140.69 497.41,139.13 496.62,137.78 498.05,137.16" fill="#1f77b4"/>
<polygon points="504.70,133.30 505.74,134.47 507.17,135.09 506.38,136.44 506.23,138.00 504.70,137.67 503.17,138.00 503.02,136.44 502.23,135.09 503.66,134.47" fill="#1f77b4"/>
<polygon points="510.31,131.88 511.35,133.05 512.78,133.68 511.99,135.03 511.84,136.59 510.31,136.25 508.78,136.59 508.63,135.03 507.84,133.68 509.27,133.05" fill="#1f77b4"/>
<polygon points="515.92,129.97 516.96,131.14 518.39,131.77 517.60,133.12 517.45,134.68 515.92,134.34 514.39,134.68 514.24,133.12 513.45,131.77 514.88,131.14" fill="#1f77b4"/>
<polygon points="521.53,130.47 522.57,131.64 524.00,132.27 523.21,133.62 523.06,135.17 521.53,134.84 520.00,135.17 519.85,133.62 519.06,132.27 520.49,131.64" fill="#1f77b4"/>
<polygon points="527.14,135.49 528.18,136.66 529.61,137.29 528.82,138.64 528.67,140.19 527.14,139.86 525.61,140.19 525.46,138.64 524.67,137.29 526.10,136.66" fill="#1f77b4"/>
<polyline points="336.4,142.2 342.0,147.7 347.6,147.7 353.2,147.1 358.8,152.7 364.4,145.8 370.1,142.2 375.7,143.0 381.3,137.5 386.9,130.6 392.5,120.1 398.1,109.8 403.7,69.8 409.3,68.3 414.9,60.1 420.5,65.6 426.2,55.3 431.8,44.3 437.4,49.8 443.0,71.0 448.6,58.1 454.2,28.8 459.8,54.5 465.4,97.8 471.0,102.8 476.6,121.5 482.3,133.7 487.9,145.5 493.5,139.2 499.1,142.8 504.7,144.7 510.3,140.0 515.9,132.6 521.5,131.7 527.1,128.1" fill="none" stroke="#ff7f0e" stroke-width="1.3" stroke-linejoin="round" stroke-linecap="round"/>
<polygon points="336.40,139.59 337.44,140.76 338.87,141.39 338.08,142.74 337.93,144.30 336.40,143.96 334.87,144.30 334.72,142.74 333.93,141.39 335.36,140.76" fill="#ff7f0e"/>
<polygon points="342.01,145.11 343.05,146.28 344.48,146.91 343.69,148.26 343.54,149.82 342.01,149.48 340.48,149.82 340.33,148.26 339.54,146.91 340.97,146.28" fill="#ff7f0e"/>
<polygon points="347.62,145.11 348.66,146.28 350.09,146.91 349.30,148.26 349.15,149.82 347.62,149.48 346.09,149.82 345.94,148.26 345.15,146.91 346.58,146.28" fill="#ff7f0e"/>
<polygon points="353.23,144.48 354.27,145.64 355.70,146.27 354.91,147.62 354.76,149.18 353.23,148.84 351.70,149.18 351.55,147.62 350.76,146.27 352.19,145.64" fill="#ff7f0e"/>
<polygon points="358.84,150.06 359.88,151.23 361.31,151.86 360.52,153.21 360.37,154.77 358.84,154.43 357.31,154.77 357.16,153.21 356.37,151.86 357.80,151.23" fill="#ff7f0e"/>
<polygon points="364.45,143.20 365.49,144.37 366.92,145.00 366.13,146.35 365.98,147.91 364.45,147.57 362.92,147.91 362.77,146.35 361.98,145.00 363.41,144.37" fill="#ff7f0e"/>
<polygon points="370.06,139.59 371.10,140.76 372.53,141.39 371.74,142.74 371.59,144.30 370.06,143.96 368.53,144.30 368.38,142.74 367.59,141.39 369.02,140.76" fill="#ff7f0e"/>
<polygon points="375.67,140.37 376.71,141.54 378.14,142.17 377.35,143.52 377.20,145.08 375.67,144.74 374.14,145.08 373.99,143.52 373.20,142.17 374.63,141.54" fill="#ff7f0e"/>
<polygon points="381.28,134.93 382.32,136.09 383.75,136.72 382.96,138.07 382.81,139.63 381.28,139.29 379.75,139.63 379.60,138.07 378.81,136.72 380.24,136.09" fill="#ff7f0e"/>
<polygon points="386.89,127.99 387.93,129.16 389.36,129.79 388.57,131.14 388.42,132.70 386.89,132.36 385.36,132.70 385.21,131.14 384.42,129.79 385.85,129.16" fill="#ff7f0e"/>
<polygon points="392.50,117.52 393.54,118.69 394.97,119.32 394.18,120.67 394.03,122.23 392.50,121.89 390.97,122.23 390.82,120.67 390.03,119.32 391.46,118.69" fill="#ff7f0e"/>
<polygon points="398.11,107.20 399.15,108.36 400.58,108.99 399.79,110.34 399.64,111.90 398.11,111.56 396.58,111.90 396.43,110.34 395.64,108.99 397.07,108.36" fill="#ff7f0e"/>
<polygon points="403.72,67.16 404.76,68.33 406.19,68.95 405.40,70.30 405.25,71.86 403.72,71.52 402.19,71.86 402.04,70.30 401.25,68.95 402.68,68.33" fill="#ff7f0e"/>
<polygon points="409.33,65.74 410.37,66.91 411.80,67.54 411.01,68.89 410.86,70.45 409.33,70.11 407.80,70.45 407.65,68.89 406.86,67.54 408.29,66.91" fill="#ff7f0e"/>
<polygon points="414.94,57.47 415.98,58.63 417.41,59.26 416.62,60.61 416.47,62.17 414.94,61.83 413.41,62.17 413.26,60.61 412.47,59.26 413.90,58.63" fill="#ff7f0e"/>
<polygon points="420.55,62.98 421.59,64.15 423.02,64.78 422.23,66.13 422.08,67.69 420.55,67.35 419.02,67.69 418.87,66.13 418.08,64.78 419.51,64.15" fill="#ff7f0e"/>
<polygon points="426.16,52.73 427.20,53.90 428.63,54.52 427.84,55.87 427.69,57.43 426.16,57.09 424.63,57.43 424.48,55.87 423.69,54.52 425.12,53.90" fill="#ff7f0e"/>
<polygon points="431.77,41.69 432.81,42.86 434.24,43.49 433.45,44.84 433.30,46.39 431.77,46.06 430.24,46.39 430.09,44.84 429.30,43.49 430.73,42.86" fill="#ff7f0e"/>
<polygon points="437.38,47.21 438.42,48.38 439.85,49.00 439.06,50.35 438.91,51.91 437.38,51.58 435.85,51.91 435.70,50.35 434.91,49.00 436.34,48.38" fill="#ff7f0e"/>
<polygon points="442.99,68.43 444.03,69.60 445.46,70.23 444.67,71.58 444.52,73.13 442.99,72.80 441.46,73.13 441.31,71.58 440.52,70.23 441.95,69.60" fill="#ff7f0e"/>
<polygon points="448.60,55.48 449.64,56.65 451.07,57.28 450.28,58.63 450.13,60.19 448.60,59.85 447.07,60.19 446.92,58.63 446.13,57.28 447.56,56.65" fill="#ff7f0e"/>
<polygon points="454.21,26.20 455.25,27.37 456.68,27.99 455.89,29.34 455.74,30.90 454.21,30.57 452.68,30.90 452.53,29.34 451.74,27.99 453.17,27.37" fill="#ff7f0e"/>
<polygon points="459.82,51.88 460.86,53.05 462.29,53.67 461.50,55.02 461.35,56.58 459.82,56.24 458.29,56.58 458.14,55.02 457.35,53.67 458.78,53.05" fill="#ff7f0e"/>
<polygon points="465.43,95.17 466.47,96.34 467.90,96.97 467.11,98.32 466.96,99.87 465.43,99.54 463.90,99.87 463.75,98.32 462.96,96.97 464.39,96.34" fill="#ff7f0e"/>
<polygon points="471.04,100.19 472.08,101.36 473.51,101.99 472.72,103.34 472.57,104.90 471.04,104.56 469.51,104.90 469.36,103.34 468.57,101.99 470.00,101.36" fill="#ff7f0e"/>
<polygon points="476.65,118.94 477.69,120.11 479.12,120.73 478.33,122.08 478.18,123.64 476.65,123.31 475.12,123.64 474.97,122.08 474.18,120.73 475.61,120.11" fill="#ff7f0e"/>
<polygon points="482.26,131.11 483.30,132.28 484.73,132.90 483.94,134.25 483.79,135.81 482.26,135.47 480.73,135.81 480.58,134.25 479.79,132.90 481.22,132.28" fill="#ff7f0e"/>
<polygon points="487.87,142.92 488.91,144.09 490.34,144.72 489.55,146.07 489.40,147.62 487.87,147.29 486.34,147.62 486.19,146.07 485.40,144.72 486.83,144.09" fill="#ff7f0e"/>
<polygon points="493.48,136.62 494.52,137.79 495.95,138.42 495.16,139.77 495.01,141.33 493.48,140.99 491.95,141.33 491.80,139.77 491.01,138.42 492.44,137.79" fill="#ff7f0e"/>
<polygon points="499.09,140.23 500.13,141.40 501.56,142.03 500.77,143.38 500.62,144.93 499.09,144.60 497.56,144.93 497.41,143.38 496.62,142.03 498.05,141.40" fill="#ff7f0e"/>
<polygon points="504.70,142.14 505.74,143.31 507.17,143.94 506.38,145.29 506.23,146.84 504.70,146.51 503.17,146.84 503.02,145.29 502.23,143.94 503.66,143.31" fill="#ff7f0e"/>
<polygon points="510.31,137.40 511.35,138.57 512.78,139.20 511.99,140.55 511.84,142.10 510.31,141.77 508.78,142.10 508.63,140.55 507.84,139.20 509.27,138.57" fill="#ff7f0e"/>
<polygon points="515.92,129.97 516.96,131.14 518.39,131.77 517.60,133.12 517.45,134.68 515.92,134.34 514.39,134.68 514.24,133.12 513.45,131.77 514.88,131.14" fill="#ff7f0e"/>
<polygon points="521.53,129.12 522.57,130.29 524.00,130.92 523.21,132.27 523.06,133.83 521.53,133.49 520.00,133.83 519.85,132.27 519.06,130.92 520.49,130.29" fill="#ff7f0e"/>
<polygon points="527.14,125.52 528.18,126.69 529.61,127.31 528.82,128.66 528.67,130.22 527.14,129.88 525.61,130.22 525.46,128.66 524.67,127.31 526.10,126.69" fill="#ff7f0e"/>
<polyline points="336.4,142.2 342.0,145.8 347.6,147.1 353.2,146.6 358.8,147.7 364.4,147.7 370.1,145.8 375.7,145.8 381.3,143.8 386.9,138.9 392.5,133.3 398.1,127.2 403.7,111.2 409.3,94.1 414.9,81.4 420.5,85.7 426.2,71.0 431.8,60.8 437.4,60.8 443.0,73.0 448.6,64.1 454.2,45.4 459.8,57.2 465.4,80.1 471.0,92.3 476.6,107.7 482.3,119.9 487.9,133.1 493.5,132.6 499.1,137.2 504.7,141.4 510.3,138.6 515.9,135.3 521.5,134.5 527.1,133.1" fill="none" stroke="#2ca02c" stroke-width="1.3" stroke-linejoin="round" stroke-linecap="round"/>
<polygon points="336.40,139.59 337.44,140.76 338.87,141.39 338.08,142.74 337.93,144.30 336.40,143.96 334.87,144.30 334.72,142.74 333.93,141.39 335.36,140.76" fill="#2ca02c"/>
<polygon points="342.01,143.20 343.05,144.37 344.48,145.00 343.69,146.35 343.54,147.91 342.01,147.57 340.48,147.91 340.33,146.35 339.54,145.00 340.97,144.37" fill="#2ca02c"/>
<polygon points="347.62,144.48 348.66,145.64 350.09,146.27 349.30,147.62 349.15,149.18 347.62,148.84 346.09,149.18 345.94,147.62 345.15,146.27 346.58,145.64" fill="#2ca02c"/>
<polygon points="353.23,143.98 354.27,145.15 355.70,145.78 354.91,147.13 354.76,148.68 353.23,148.35 351.70,148.68 351.55,147.13 350.76,145.78 352.19,145.15" fill="#2ca02c"/>
<polygon points="358.84,145.11 359.88,146.28 361.31,146.91 360.52,148.26 360.37,149.82 358.84,149.48 357.31,149.82 357.16,148.26 356.37,146.91 357.80,146.28" fill="#2ca02c"/>
<polygon points="364.45,145.11 365.49,146.28 366.92,146.91 366.13,148.26 365.98,149.82 364.45,149.48 362.92,149.82 362.77,148.26 361.98,146.91 363.41,146.28" fill="#2ca02c"/>
<polygon points="370.06,143.20 371.10,144.37 372.53,145.00 371.74,146.35 371.59,147.91 370.06,147.57 368.53,147.91 368.38,146.35 367.59,145.00 369.02,144.37" fill="#2ca02c"/>
<polygon points="375.67,143.20 376.71,144.37 378.14,145.00 377.35,146.35 377.20,147.91 375.67,147.57 374.14,147.91 373.99,146.35 373.20,145.00 374.63,144.37" fill="#2ca02c"/>
<polygon points="381.28,141.22 382.32,142.39 383.75,143.02 382.96,144.37 382.81,145.92 381.28,145.59 379.75,145.92 379.60,144.37 378.81,143.02 380.24,142.39" fill="#2ca02c"/>
<polygon points="386.89,136.27 387.93,137.44 389.36,138.07 388.57,139.42 388.42,140.97 386.89,140.64 385.36,140.97 385.21,139.42 384.42,138.07 385.85,137.44" fill="#2ca02c"/>
<polygon points="392.50,130.68 393.54,131.85 394.97,132.48 394.18,133.83 394.03,135.38 392.50,135.05 390.97,135.38 390.82,133.83 390.03,132.48 391.46,131.85" fill="#2ca02c"/>
<polygon points="398.11,124.60 399.15,125.77 400.58,126.39 399.79,127.74 399.64,129.30 398.11,128.97 396.58,129.30 396.43,127.74 395.64,126.39 397.07,125.77" fill="#2ca02c"/>
<polygon points="403.72,108.61 404.76,109.78 406.19,110.41 405.40,111.76 405.25,113.31 403.72,112.98 402.19,113.31 402.04,111.76 401.25,110.41 402.68,109.78" fill="#2ca02c"/>
<polygon points="409.33,91.49 410.37,92.66 411.80,93.29 411.01,94.64 410.86,96.19 409.33,95.86 407.80,96.19 407.65,94.64 406.86,93.29 408.29,92.66" fill="#2ca02c"/>
<polygon points="414.94,78.83 415.98,80.00 417.41,80.63 416.62,81.97 416.47,83.53 414.94,83.20 413.41,83.53 413.26,81.97 412.47,80.63 413.90,80.00" fill="#2ca02c"/>
<polygon points="420.55,83.14 421.59,84.31 423.02,84.94 422.23,86.29 422.08,87.85 420.55,87.51 419.02,87.85 418.87,86.29 418.08,84.94 419.51,84.31" fill="#2ca02c"/>
<polygon points="426.16,68.43 427.20,69.60 428.63,70.23 427.84,71.58 427.69,73.13 426.16,72.80 424.63,73.13 424.48,71.58 423.69,70.23 425.12,69.60" fill="#2ca02c"/>
<polygon points="431.77,58.17 432.81,59.34 434.24,59.97 433.45,61.32 433.30,62.88 431.77,62.54 430.24,62.88 430.09,61.32 429.30,59.97 430.73,59.34" fill="#2ca02c"/>
<polygon points="437.38,58.17 438.42,59.34 439.85,59.97 439.06,61.32 438.91,62.88 437.38,62.54 435.85,62.88 435.70,61.32 434.91,59.97 436.34,59.34" fill="#2ca02c"/>
<polygon points="442.99,70.41 444.03,71.58 445.46,72.21 444.67,73.56 444.52,75.11 442.99,74.78 441.46,75.11 441.31,73.56 440.52,72.21 441.95,71.58" fill="#2ca02c"/>
<polygon points="448.60,61.50 449.64,62.67 451.07,63.29 450.28,64.64 450.13,66.20 448.60,65.87 447.07,66.20 446.92,64.64 446.13,63.29 447.56,62.67" fill="#2ca02c"/>
<polygon points="454.21,42.82 455.25,43.99 456.68,44.62 455.89,45.97 455.74,47.53 454.21,47.19 452.68,47.53 452.53,45.97 451.74,44.62 453.17,43.99" fill="#2ca02c"/>
<polygon points="459.82,54.64 460.86,55.81 462.29,56.43 461.50,57.78 461.35,59.34 459.82,59.00 458.29,59.34 458.14,57.78 457.35,56.43 458.78,55.81" fill="#2ca02c"/>
<polygon points="465.43,77.48 466.47,78.65 467.90,79.28 467.11,80.63 466.96,82.19 465.43,81.85 463.90,82.19 463.75,80.63 462.96,79.28 464.39,78.65" fill="#2ca02c"/>
<polygon points="471.04,89.72 472.08,90.89 473.51,91.52 472.72,92.87 472.57,94.43 471.04,94.09 469.51,94.43 469.36,92.87 468.57,91.52 470.00,90.89" fill="#2ca02c"/>
<polygon points="476.65,105.07 477.69,106.24 479.12,106.87 478.33,108.22 478.18,109.78 476.65,109.44 475.12,109.78 474.97,108.22 474.18,106.87 475.61,106.24" fill="#2ca02c"/>
<polygon points="482.26,117.31 483.30,118.48 484.73,119.11 483.94,120.46 483.79,122.01 482.26,121.68 480.73,122.01 480.58,120.46 479.79,119.11 481.22,118.48" fill="#2ca02c"/>
<polygon points="487.87,130.47 488.91,131.64 490.34,132.27 489.55,133.62 489.40,135.17 487.87,134.84 486.34,135.17 486.19,133.62 485.40,132.27 486.83,131.64" fill="#2ca02c"/>
<polygon points="493.48,129.97 494.52,131.14 495.95,131.77 495.16,133.12 495.01,134.68 493.48,134.34 491.95,134.68 491.80,133.12 491.01,131.77 492.44,131.14" fill="#2ca02c"/>
<polygon points="499.09,134.57 500.13,135.74 501.56,136.37 500.77,137.72 500.62,139.28 499.09,138.94 497.56,139.28 497.41,137.72 496.62,136.37 498.05,135.74" fill="#2ca02c"/>
<polygon points="504.70,138.82 505.74,139.99 507.17,140.61 506.38,141.96 506.23,143.52 504.70,143.18 503.17,143.52 503.02,141.96 502.23,140.61 503.66,139.99" fill="#2ca02c"/>
<polygon points="510.31,135.99 511.35,137.16 512.78,137.78 511.99,139.13 511.84,140.69 510.31,140.35 508.78,140.69 508.63,139.13 507.84,137.78 509.27,137.16" fill="#2ca02c"/>
<polygon points="515.92,132.73 516.96,133.90 518.39,134.53 517.60,135.88 517.45,137.44 515.92,137.10 514.39,137.44 514.24,135.88 513.45,134.53 514.88,133.90" fill="#2ca02c"/>
<polygon points="521.53,131.88 522.57,133.05 524.00,133.68 523.21,135.03 523.06,136.59 521.53,136.25 520.00,136.59 519.85,135.03 519.06,133.68 520.49,133.05" fill="#2ca02c"/>
<polygon points="527.14,130.47 528.18,131.64 529.61,132.27 528.82,133.62 528.67,135.17 527.14,134.84 525.61,135.17 525.46,133.62 524.67,132.27 526.10,131.64" fill="#2ca02c"/>
<polyline points="336.4,143.8 342.0,149.4 347.6,148.5 353.2,147.1 358.8,152.7 364.4,145.8 370.1,141.6 375.7,143.0 381.3,137.5 386.9,131.9 392.5,119.5 398.1,108.4 403.7,73.1 409.3,86.3 414.9,75.3 420.5,67.6 426.2,65.5 431.8,55.9 437.4,57.2 443.0,72.4 448.6,62.8 454.2,40.8 459.8,56.4 465.4,85.7 471.0,102.8 476.6,121.5 482.3,133.7 487.9,145.5 493.5,140.0 499.1,141.4 504.7,144.7 510.3,140.8 515.9,132.6 521.5,131.7 527.1,128.1" fill="none" stroke="#d62728" stroke-width="1.3" stroke-linejoin="round" stroke-linecap="round"/>
<polygon points="336.40,141.22 337.44,142.39 338.87,143.02 338.08,144.37 337.93,145.92 336.40,145.59 334.87,145.92 334.72,144.37 333.93,143.02 335.36,142.39" fill="#d62728"/>
<polygon points="342.01,146.81 343.05,147.98 344.48,148.61 343.69,149.96 343.54,151.51 342.01,151.18 340.48,151.51 340.33,149.96 339.54,148.61 340.97,147.98" fill="#d62728"/>
<polygon points="347.62,145.89 348.66,147.06 350.09,147.69 349.30,149.04 349.15,150.59 347.62,150.26 346.09,150.59 345.94,149.04 345.15,147.69 346.58,147.06" fill="#d62728"/>
<polygon points="353.23,144.48 354.27,145.64 355.70,146.27 354.91,147.62 354.76,149.18 353.23,148.84 351.70,149.18 351.55,147.62 350.76,146.27 352.19,145.64" fill="#d62728"/>
<polygon points="358.84,150.06 359.88,151.23 361.31,151.86 360.52,153.21 360.37,154.77 358.84,154.43 357.31,154.77 357.16,153.21 356.37,151.86 357.80,151.23" fill="#d62728"/>
<polygon points="364.45,143.20 365.49,144.37 366.92,145.00 366.13,146.35 365.98,147.91 364.45,147.57 362.92,147.91 362.77,146.35 361.98,145.00 363.41,144.37" fill="#d62728"/>
<polygon points="370.06,139.03 371.10,140.20 372.53,140.82 371.74,142.17 371.59,143.73 370.06,143.40 368.53,143.73 368.38,142.17 367.59,140.82 369.02,140.20" fill="#d62728"/>
<polygon points="375.67,140.37 376.71,141.54 378.14,142.17 377.35,143.52 377.20,145.08 375.67,144.74 374.14,145.08 373.99,143.52 373.20,142.17 374.63,141.54" fill="#d62728"/>
<polygon points="381.28,134.93 382.32,136.09 383.75,136.72 382.96,138.07 382.81,139.63 381.28,139.29 379.75,139.63 379.60,138.07 378.81,136.72 380.24,136.09" fill="#d62728"/>
<polygon points="386.89,129.34 387.93,130.51 389.36,131.13 388.57,132.48 388.42,134.04 386.89,133.70 385.36,134.04 385.21,132.48 384.42,131.13 385.85,130.51" fill="#d62728"/>
<polygon points="392.50,116.89 393.54,118.06 394.97,118.68 394.18,120.03 394.03,121.59 392.50,121.25 390.97,121.59 390.82,120.03 390.03,118.68 391.46,118.06" fill="#d62728"/>
<polygon points="398.11,105.78 399.15,106.95 400.58,107.58 399.79,108.93 399.64,110.48 398.11,110.15 396.58,110.48 396.43,108.93 395.64,107.58 397.07,106.95" fill="#d62728"/>
<polygon points="403.72,70.48 404.76,71.65 406.19,72.28 405.40,73.63 405.25,75.18 403.72,74.85 402.19,75.18 402.04,73.63 401.25,72.28 402.68,71.65" fill="#d62728"/>
<polygon points="409.33,83.71 410.37,84.88 411.80,85.51 411.01,86.86 410.86,88.41 409.33,88.08 407.80,88.41 407.65,86.86 406.86,85.51 408.29,84.88" fill="#d62728"/>
<polygon points="414.94,72.67 415.98,73.84 417.41,74.47 416.62,75.82 416.47,77.38 414.94,77.04 413.41,77.38 413.26,75.82 412.47,74.47 413.90,73.84" fill="#d62728"/>
<polygon points="420.55,65.03 421.59,66.20 423.02,66.83 422.23,68.18 422.08,69.74 420.55,69.40 419.02,69.74 418.87,68.18 418.08,66.83 419.51,66.20" fill="#d62728"/>
<polygon points="426.16,62.91 427.20,64.08 428.63,64.71 427.84,66.06 427.69,67.62 426.16,67.28 424.63,67.62 424.48,66.06 423.69,64.71 425.12,64.08" fill="#d62728"/>
<polygon points="431.77,53.29 432.81,54.46 434.24,55.09 433.45,56.44 433.30,57.99 431.77,57.66 430.24,57.99 430.09,56.44 429.30,55.09 430.73,54.46" fill="#d62728"/>
<polygon points="437.38,54.64 438.42,55.81 439.85,56.43 439.06,57.78 438.91,59.34 437.38,59.00 435.85,59.34 435.70,57.78 434.91,56.43 436.34,55.81" fill="#d62728"/>
<polygon points="442.99,69.84 444.03,71.01 445.46,71.64 444.67,72.99 444.52,74.55 442.99,74.21 441.46,74.55 441.31,72.99 440.52,71.64 441.95,71.01" fill="#d62728"/>
<polygon points="448.60,60.22 449.64,61.39 451.07,62.02 450.28,63.37 450.13,64.93 448.60,64.59 447.07,64.93 446.92,63.37 446.13,62.02 447.56,61.39" fill="#d62728"/>
<polygon points="454.21,38.15 455.25,39.32 456.68,39.95 455.89,41.30 455.74,42.86 454.21,42.52 452.68,42.86 452.53,41.30 451.74,39.95 453.17,39.32" fill="#d62728"/>
<polygon points="459.82,53.79 460.86,54.96 462.29,55.58 461.50,56.93 461.35,58.49 459.82,58.15 458.29,58.49 458.14,56.93 457.35,55.58 458.78,54.96" fill="#d62728"/>
<polygon points="465.43,83.07 466.47,84.24 467.90,84.87 467.11,86.22 466.96,87.78 465.43,87.44 463.90,87.78 463.75,86.22 462.96,84.87 464.39,84.24" fill="#d62728"/>
<polygon points="471.04,100.19 472.08,101.36 473.51,101.99 472.72,103.34 472.57,104.90 471.04,104.56 469.51,104.90 469.36,103.34 468.57,101.99 470.00,101.36" fill="#d62728"/>
<polygon points="476.65,118.94 477.69,120.11 479.12,120.73 478.33,122.08 478.18,123.64 476.65,123.31 475.12,123.64 474.97,122.08 474.18,120.73 475.61,120.11" fill="#d62728"/>
<polygon points="482.26,131.11 483.30,132.28 484.73,132.90 483.94,134.25 483.79,135.81 482.26,135.47 480.73,135.81 480.58,134.25 479.79,132.90 481.22,132.28" fill="#d62728"/>
<polygon points="487.87,142.92 488.91,144.09 490.34,144.72 489.55,146.07 489.40,147.62 487.87,147.29 486.34,147.62 486.19,146.07 485.40,144.72 486.83,144.09" fill="#d62728"/>
<polygon points="493.48,137.40 494.52,138.57 495.95,139.20 495.16,140.55 495.01,142.10 493.48,141.77 491.95,142.10 491.80,140.55 491.01,139.20 492.44,138.57" fill="#d62728"/>
<polygon points="499.09,138.82 500.13,139.99 501.56,140.61 500.77,141.96 500.62,143.52 499.09,143.18 497.56,143.52 497.41,141.96 496.62,140.61 498.05,139.99" fill="#d62728"/>
<polygon points="504.70,142.14 505.74,143.31 507.17,143.94 506.38,145.29 506.23,146.84 504.70,146.51 503.17,146.84 503.02,145.29 502.23,143.94 503.66,143.31" fill="#d62728"/>
<polygon points="510.31,138.18 511.35,139.35 512.78,139.98 511.99,141.33 511.84,142.88 510.31,142.55 508.78,142.88 508.63,141.33 507.84,139.98 509.27,139.35" fill="#d62728"/>
<polygon points="515.92,129.97 516.96,131.14 518.39,131.77 517.60,133.12 517.45,134.68 515.92,134.34 514.39,134.68 514.24,133.12 513.45,131.77 514.88,131.14" fill="#d62728"/>
<polygon points="521.53,129.12 522.57,130.29 524.00,130.92 523.21,132.27 523.06,133.83 521.53,133.49 520.00,133.83 519.85,132.27 519.06,130.92 520.49,130.29" fill="#d62728"/>
<polygon points="527.14,125.52 528.18,126.69 529.61,127.31 528.82,128.66 528.67,130.22 527.14,129.88 525.61,130.22 525.46,128.66 524.67,127.31 526.10,126.69" fill="#d62728"/>
</g>
<rect x="56.5" y="21.5" width="211.5" height="137.0" fill="none" stroke="#7a7a7a" stroke-width="1.2"/>
<rect x="327.0" y="23.2" width="209.6" height="136.1" fill="none" stroke="#7a7a7a" stroke-width="1.2"/>
<rect x="42.5" y="222.2" width="340.8" height="232.1" fill="none" stroke="#7a7a7a" stroke-width="1.2"/>
<rect x="59.4" y="24.4" width="62.8" height="39.5" rx="1.5" fill="#ffffff" fill-opacity="0.85" stroke="#dcdcdc" stroke-width="0.8"/>
<line x1="61.5" y1="30.2" x2="74.6" y2="30.2" stroke="#1f77b4" stroke-width="1.5"/>
<polygon points="68.05,28.00 68.93,28.99 70.14,29.52 69.47,30.66 69.34,31.98 68.05,31.70 66.76,31.98 66.63,30.66 65.96,29.52 67.17,28.99" fill="#1f77b4"/>
<text x="79.40" y="32.50" font-size="6.45" text-anchor="start" textLength="40.66" lengthAdjust="spacingAndGlyphs" fill="#1a1a1a">Ground truth</text>
<line x1="61.5" y1="39.6" x2="74.6" y2="39.6" stroke="#ff7f0e" stroke-width="1.5"/>
<polygon points="68.05,37.40 68.93,38.39 70.14,38.92 69.47,40.06 69.34,41.38 68.05,41.10 66.76,41.38 66.63,40.06 65.96,38.92 67.17,38.39" fill="#ff7f0e"/>
<text x="79.40" y="41.90" font-size="6.45" text-anchor="start" textLength="23.10" lengthAdjust="spacingAndGlyphs" fill="#1a1a1a">tf-v-SIR</text>
<line x1="61.5" y1="49.0" x2="74.6" y2="49.0" stroke="#2ca02c" stroke-width="1.5"/>
<polygon points="68.05,46.80 68.93,47.79 70.14,48.32 69.47,49.46 69.34,50.78 68.05,50.50 66.76,50.78 66.63,49.46 65.96,48.32 67.17,47.79" fill="#2ca02c"/>
<text x="79.40" y="51.30" font-size="6.45" text-anchor="start" textLength="18.62" lengthAdjust="spacingAndGlyphs" fill="#1a1a1a">SLOW</text>
<line x1="61.5" y1="58.4" x2="74.6" y2="58.4" stroke="#d62728" stroke-width="1.5"/>
<polygon points="68.05,56.20 68.93,57.19 70.14,57.72 69.47,58.86 69.34,60.18 68.05,59.90 66.76,60.18 66.63,58.86 65.96,57.72 67.17,57.19" fill="#d62728"/>
<text x="79.40" y="60.70" font-size="6.45" text-anchor="start" textLength="19.10" lengthAdjust="spacingAndGlyphs" fill="#1a1a1a">SIMLR</text>
<rect x="329.4" y="25.8" width="62.8" height="38.6" rx="1.5" fill="#ffffff" fill-opacity="0.85" stroke="#dcdcdc" stroke-width="0.8"/>
<line x1="331.5" y1="31.3" x2="345.0" y2="31.3" stroke="#1f77b4" stroke-width="1.5"/>
<polygon points="338.25,29.10 339.13,30.09 340.34,30.62 339.67,31.76 339.54,33.08 338.25,32.80 336.96,33.08 336.83,31.76 336.16,30.62 337.37,30.09" fill="#1f77b4"/>
<text x="349.70" y="33.60" font-size="6.45" text-anchor="start" textLength="40.66" lengthAdjust="spacingAndGlyphs" fill="#1a1a1a">Ground truth</text>
<line x1="331.5" y1="40.9" x2="345.0" y2="40.9" stroke="#ff7f0e" stroke-width="1.5"/>
<polygon points="338.25,38.70 339.13,39.69 340.34,40.22 339.67,41.36 339.54,42.68 338.25,42.40 336.96,42.68 336.83,41.36 336.16,40.22 337.37,39.69" fill="#ff7f0e"/>
<text x="349.70" y="43.20" font-size="6.45" text-anchor="start" textLength="23.10" lengthAdjust="spacingAndGlyphs" fill="#1a1a1a">tf-v-SIR</text>
<line x1="331.5" y1="50.3" x2="345.0" y2="50.3" stroke="#2ca02c" stroke-width="1.5"/>
<polygon points="338.25,48.10 339.13,49.09 340.34,49.62 339.67,50.76 339.54,52.08 338.25,51.80 336.96,52.08 336.83,50.76 336.16,49.62 337.37,49.09" fill="#2ca02c"/>
<text x="349.70" y="52.60" font-size="6.45" text-anchor="start" textLength="18.62" lengthAdjust="spacingAndGlyphs" fill="#1a1a1a">SLOW</text>
<line x1="331.5" y1="59.6" x2="345.0" y2="59.6" stroke="#d62728" stroke-width="1.5"/>
<polygon points="338.25,57.40 339.13,58.39 340.34,58.92 339.67,60.06 339.54,61.38 338.25,61.10 336.96,61.38 336.83,60.06 336.16,58.92 337.37,58.39" fill="#d62728"/>
<text x="349.70" y="61.90" font-size="6.45" text-anchor="start" textLength="19.10" lengthAdjust="spacingAndGlyphs" fill="#1a1a1a">SIMLR</text>
<line x1="54.0" y1="156.1" x2="56.5" y2="156.1" stroke="#7a7a7a" stroke-width="0.8"/>
<text x="51.60" y="159.10" font-size="8.74" text-anchor="end" textLength="5.41" lengthAdjust="spacingAndGlyphs" fill="#1a1a1a">0</text>
<line x1="54.0" y1="139.0" x2="56.5" y2="139.0" stroke="#7a7a7a" stroke-width="0.8"/>
<text x="51.60" y="142.05" font-size="8.74" text-anchor="end" textLength="24.34" lengthAdjust="spacingAndGlyphs" fill="#1a1a1a">2,000</text>
<line x1="54.0" y1="122.0" x2="56.5" y2="122.0" stroke="#7a7a7a" stroke-width="0.8"/>
<text x="51.60" y="125.00" font-size="8.74" text-anchor="end" textLength="24.34" lengthAdjust="spacingAndGlyphs" fill="#1a1a1a">4,000</text>
<line x1="54.0" y1="104.9" x2="56.5" y2="104.9" stroke="#7a7a7a" stroke-width="0.8"/>
<text x="51.60" y="107.95" font-size="8.74" text-anchor="end" textLength="24.34" lengthAdjust="spacingAndGlyphs" fill="#1a1a1a">6,000</text>
<line x1="54.0" y1="87.9" x2="56.5" y2="87.9" stroke="#7a7a7a" stroke-width="0.8"/>
<text x="51.60" y="90.90" font-size="8.74" text-anchor="end" textLength="24.34" lengthAdjust="spacingAndGlyphs" fill="#1a1a1a">8,000</text>
<line x1="54.0" y1="70.8" x2="56.5" y2="70.8" stroke="#7a7a7a" stroke-width="0.8"/>
<text x="51.60" y="73.85" font-size="8.74" text-anchor="end" textLength="29.74" lengthAdjust="spacingAndGlyphs" fill="#1a1a1a">10,000</text>
<line x1="54.0" y1="53.8" x2="56.5" y2="53.8" stroke="#7a7a7a" stroke-width="0.8"/>
<text x="51.60" y="56.80" font-size="8.74" text-anchor="end" textLength="29.74" lengthAdjust="spacingAndGlyphs" fill="#1a1a1a">12,000</text>
<line x1="54.0" y1="36.7" x2="56.5" y2="36.7" stroke="#7a7a7a" stroke-width="0.8"/>
<text x="51.60" y="39.75" font-size="8.74" text-anchor="end" textLength="29.74" lengthAdjust="spacingAndGlyphs" fill="#1a1a1a">14,000</text>
<line x1="66.4" y1="158.5" x2="66.4" y2="161.0" stroke="#7a7a7a" stroke-width="0.8"/>
<text x="66.40" y="170.90" font-size="8.74" text-anchor="middle" textLength="5.41" lengthAdjust="spacingAndGlyphs" fill="#1a1a1a">0</text>
<line x1="91.6" y1="158.5" x2="91.6" y2="161.0" stroke="#7a7a7a" stroke-width="0.8"/>
<text x="91.55" y="170.90" font-size="8.74" text-anchor="middle" textLength="5.41" lengthAdjust="spacingAndGlyphs" fill="#1a1a1a">5</text>
<line x1="116.7" y1="158.5" x2="116.7" y2="161.0" stroke="#7a7a7a" stroke-width="0.8"/>
<text x="116.70" y="170.90" font-size="8.74" text-anchor="middle" textLength="10.82" lengthAdjust="spacingAndGlyphs" fill="#1a1a1a">10</text>
<line x1="141.9" y1="158.5" x2="141.9" y2="161.0" stroke="#7a7a7a" stroke-width="0.8"/>
<text x="141.85" y="170.90" font-size="8.74" text-anchor="middle" textLength="10.82" lengthAdjust="spacingAndGlyphs" fill="#1a1a1a">15</text>
<line x1="167.0" y1="158.5" x2="167.0" y2="161.0" stroke="#7a7a7a" stroke-width="0.8"/>
<text x="167.00" y="170.90" font-size="8.74" text-anchor="middle" textLength="10.82" lengthAdjust="spacingAndGlyphs" fill="#1a1a1a">20</text>
<line x1="192.2" y1="158.5" x2="192.2" y2="161.0" stroke="#7a7a7a" stroke-width="0.8"/>
<text x="192.15" y="170.90" font-size="8.74" text-anchor="middle" textLength="10.82" lengthAdjust="spacingAndGlyphs" fill="#1a1a1a">25</text>
<line x1="217.3" y1="158.5" x2="217.3" y2="161.0" stroke="#7a7a7a" stroke-width="0.8"/>
<text x="217.30" y="170.90" font-size="8.74" text-anchor="middle" textLength="10.82" lengthAdjust="spacingAndGlyphs" fill="#1a1a1a">30</text>
<line x1="242.5" y1="158.5" x2="242.5" y2="161.0" stroke="#7a7a7a" stroke-width="0.8"/>
<text x="242.45" y="170.90" font-size="8.74" text-anchor="middle" textLength="10.82" lengthAdjust="spacingAndGlyphs" fill="#1a1a1a">35</text>
<text x="92.00" y="18.30" font-size="10.50" text-anchor="start" textLength="139.45" lengthAdjust="spacingAndGlyphs" fill="#1a1a1a">Alberta, 1 week in advance</text>
<text x="127.60" y="182.50" font-size="10.24" text-anchor="start" textLength="68.74" lengthAdjust="spacingAndGlyphs" fill="#1a1a1a">Time [Weeks]</text>
<text transform="translate(17.30,151.20) rotate(-90)" font-size="10.25" textLength="121.51" lengthAdjust="spacingAndGlyphs" fill="#1a1a1a">Reported new infections</text>
<text x="157.30" y="196.60" font-size="10.61" text-anchor="middle" textLength="16.40" lengthAdjust="spacingAndGlyphs" font-weight="bold" fill="#1a1a1a">(a)</text>
<line x1="324.5" y1="150.4" x2="327.0" y2="150.4" stroke="#7a7a7a" stroke-width="0.8"/>
<text x="322.90" y="153.40" font-size="8.74" text-anchor="end" textLength="18.93" lengthAdjust="spacingAndGlyphs" fill="#1a1a1a">0.25</text>
<line x1="324.5" y1="132.7" x2="327.0" y2="132.7" stroke="#7a7a7a" stroke-width="0.8"/>
<text x="322.90" y="135.72" font-size="8.74" text-anchor="end" textLength="18.93" lengthAdjust="spacingAndGlyphs" fill="#1a1a1a">0.50</text>
<line x1="324.5" y1="115.0" x2="327.0" y2="115.0" stroke="#7a7a7a" stroke-width="0.8"/>
<text x="322.90" y="118.03" font-size="8.74" text-anchor="end" textLength="18.93" lengthAdjust="spacingAndGlyphs" fill="#1a1a1a">0.75</text>
<line x1="324.5" y1="97.3" x2="327.0" y2="97.3" stroke="#7a7a7a" stroke-width="0.8"/>
<text x="322.90" y="100.35" font-size="8.74" text-anchor="end" textLength="18.93" lengthAdjust="spacingAndGlyphs" fill="#1a1a1a">1.00</text>
<line x1="324.5" y1="79.7" x2="327.0" y2="79.7" stroke="#7a7a7a" stroke-width="0.8"/>
<text x="322.90" y="82.66" font-size="8.74" text-anchor="end" textLength="18.93" lengthAdjust="spacingAndGlyphs" fill="#1a1a1a">1.25</text>
<line x1="324.5" y1="62.0" x2="327.0" y2="62.0" stroke="#7a7a7a" stroke-width="0.8"/>
<text x="322.90" y="64.98" font-size="8.74" text-anchor="end" textLength="18.93" lengthAdjust="spacingAndGlyphs" fill="#1a1a1a">1.50</text>
<line x1="324.5" y1="44.3" x2="327.0" y2="44.3" stroke="#7a7a7a" stroke-width="0.8"/>
<text x="322.90" y="47.29" font-size="8.74" text-anchor="end" textLength="18.93" lengthAdjust="spacingAndGlyphs" fill="#1a1a1a">1.75</text>
<line x1="324.5" y1="26.6" x2="327.0" y2="26.6" stroke="#7a7a7a" stroke-width="0.8"/>
<text x="322.90" y="29.61" font-size="8.74" text-anchor="end" textLength="18.93" lengthAdjust="spacingAndGlyphs" fill="#1a1a1a">2.00</text>
<line x1="336.4" y1="159.3" x2="336.4" y2="161.8" stroke="#7a7a7a" stroke-width="0.8"/>
<text x="336.40" y="171.30" font-size="8.74" text-anchor="middle" textLength="5.41" lengthAdjust="spacingAndGlyphs" fill="#1a1a1a">0</text>
<line x1="364.4" y1="159.3" x2="364.4" y2="161.8" stroke="#7a7a7a" stroke-width="0.8"/>
<text x="364.45" y="171.30" font-size="8.74" text-anchor="middle" textLength="5.41" lengthAdjust="spacingAndGlyphs" fill="#1a1a1a">5</text>
<line x1="392.5" y1="159.3" x2="392.5" y2="161.8" stroke="#7a7a7a" stroke-width="0.8"/>
<text x="392.50" y="171.30" font-size="8.74" text-anchor="middle" textLength="10.82" lengthAdjust="spacingAndGlyphs" fill="#1a1a1a">10</text>
<line x1="420.5" y1="159.3" x2="420.5" y2="161.8" stroke="#7a7a7a" stroke-width="0.8"/>
<text x="420.55" y="171.30" font-size="8.74" text-anchor="middle" textLength="10.82" lengthAdjust="spacingAndGlyphs" fill="#1a1a1a">15</text>
<line x1="448.6" y1="159.3" x2="448.6" y2="161.8" stroke="#7a7a7a" stroke-width="0.8"/>
<text x="448.60" y="171.30" font-size="8.74" text-anchor="middle" textLength="10.82" lengthAdjust="spacingAndGlyphs" fill="#1a1a1a">20</text>
<line x1="476.6" y1="159.3" x2="476.6" y2="161.8" stroke="#7a7a7a" stroke-width="0.8"/>
<text x="476.65" y="171.30" font-size="8.74" text-anchor="middle" textLength="10.82" lengthAdjust="spacingAndGlyphs" fill="#1a1a1a">25</text>
<line x1="504.7" y1="159.3" x2="504.7" y2="161.8" stroke="#7a7a7a" stroke-width="0.8"/>
<text x="504.70" y="171.30" font-size="8.74" text-anchor="middle" textLength="10.82" lengthAdjust="spacingAndGlyphs" fill="#1a1a1a">30</text>
<line x1="532.8" y1="159.3" x2="532.8" y2="161.8" stroke="#7a7a7a" stroke-width="0.8"/>
<text x="532.75" y="171.30" font-size="8.74" text-anchor="middle" textLength="10.82" lengthAdjust="spacingAndGlyphs" fill="#1a1a1a">35</text>
<text x="327.60" y="21.70" font-size="6.03" text-anchor="start" textLength="11.08" lengthAdjust="spacingAndGlyphs" fill="#1a1a1a">1e6</text>
<text x="344.70" y="19.90" font-size="10.38" text-anchor="start" textLength="174.81" lengthAdjust="spacingAndGlyphs" fill="#1a1a1a">United States, 2 weeks in advance</text>
<text x="397.80" y="183.10" font-size="10.09" text-anchor="start" textLength="67.69" lengthAdjust="spacingAndGlyphs" fill="#1a1a1a">Time [Weeks]</text>
<text transform="translate(298.60,153.10) rotate(-90)" font-size="10.25" textLength="121.51" lengthAdjust="spacingAndGlyphs" fill="#1a1a1a">Reported new infections</text>
<text x="427.10" y="197.90" font-size="10.61" text-anchor="middle" textLength="16.82" lengthAdjust="spacingAndGlyphs" font-weight="bold" fill="#1a1a1a">(b)</text>
<g clip-path="url(#clipC)">
<polyline points="57.8,364.9 161.2,323.8 264.6,271.9 368.0,237.4" fill="none" stroke="#1f77b4" stroke-width="1.15" stroke-opacity="0.3" stroke-linejoin="round" stroke-linecap="round"/>
<circle cx="57.8" cy="364.9" r="1.60" fill="#1f77b4" fill-opacity="0.4"/>
<circle cx="161.2" cy="323.8" r="1.60" fill="#1f77b4" fill-opacity="0.4"/>
<circle cx="264.6" cy="271.9" r="1.60" fill="#1f77b4" fill-opacity="0.4"/>
<circle cx="368.0" cy="237.4" r="1.60" fill="#1f77b4" fill-opacity="0.4"/>
<polyline points="57.8,406.7 161.2,356.2 264.6,301.2 368.0,243.0" fill="none" stroke="#ff7f0e" stroke-width="1.15" stroke-opacity="0.3" stroke-linejoin="round" stroke-linecap="round"/>
<circle cx="57.8" cy="406.7" r="1.60" fill="#ff7f0e" fill-opacity="0.4"/>
<circle cx="161.2" cy="356.2" r="1.60" fill="#ff7f0e" fill-opacity="0.4"/>
<circle cx="264.6" cy="301.2" r="1.60" fill="#ff7f0e" fill-opacity="0.4"/>
<circle cx="368.0" cy="243.0" r="1.60" fill="#ff7f0e" fill-opacity="0.4"/>
<polyline points="57.8,411.3 161.2,376.8" fill="none" stroke="#2ca02c" stroke-width="1.15" stroke-opacity="0.3" stroke-linejoin="round" stroke-linecap="round"/>
<circle cx="57.8" cy="411.3" r="1.60" fill="#2ca02c" fill-opacity="0.4"/>
<circle cx="161.2" cy="376.8" r="1.60" fill="#2ca02c" fill-opacity="0.4"/>
<polyline points="57.8,416.0 161.2,378.0 264.6,337.6" fill="none" stroke="#d62728" stroke-width="1.15" stroke-opacity="0.3" stroke-linejoin="round" stroke-linecap="round"/>
<circle cx="57.8" cy="416.0" r="1.60" fill="#d62728" fill-opacity="0.4"/>
<circle cx="161.2" cy="378.0" r="1.60" fill="#d62728" fill-opacity="0.4"/>
<circle cx="264.6" cy="337.6" r="1.60" fill="#d62728" fill-opacity="0.4"/>
<polyline points="57.8,417.6 161.2,379.6 264.6,314.6 368.0,232.3" fill="none" stroke="#9467bd" stroke-width="1.15" stroke-opacity="0.3" stroke-linejoin="round" stroke-linecap="round"/>
<circle cx="57.8" cy="417.6" r="1.60" fill="#9467bd" fill-opacity="0.4"/>
<circle cx="161.2" cy="379.6" r="1.60" fill="#9467bd" fill-opacity="0.4"/>
<circle cx="264.6" cy="314.6" r="1.60" fill="#9467bd" fill-opacity="0.4"/>
<circle cx="368.0" cy="232.3" r="1.60" fill="#9467bd" fill-opacity="0.4"/>
<polyline points="57.8,419.2 161.2,381.2" fill="none" stroke="#8c564b" stroke-width="1.15" stroke-opacity="0.3" stroke-linejoin="round" stroke-linecap="round"/>
<circle cx="57.8" cy="419.2" r="1.60" fill="#8c564b" fill-opacity="0.4"/>
<circle cx="161.2" cy="381.2" r="1.60" fill="#8c564b" fill-opacity="0.4"/>
<polyline points="57.8,421.6 161.2,387.5 264.6,340.8 368.0,298.0" fill="none" stroke="#e377c2" stroke-width="1.15" stroke-opacity="0.3" stroke-linejoin="round" stroke-linecap="round"/>
<circle cx="57.8" cy="421.6" r="1.60" fill="#e377c2" fill-opacity="0.4"/>
<circle cx="161.2" cy="387.5" r="1.60" fill="#e377c2" fill-opacity="0.4"/>
<circle cx="264.6" cy="340.8" r="1.60" fill="#e377c2" fill-opacity="0.4"/>
<circle cx="368.0" cy="298.0" r="1.60" fill="#e377c2" fill-opacity="0.4"/>
<polyline points="57.8,415.2 161.2,374.4 264.6,295.6" fill="none" stroke="#7f7f7f" stroke-width="1.15" stroke-opacity="0.3" stroke-linejoin="round" stroke-linecap="round"/>
<circle cx="57.8" cy="415.2" r="1.60" fill="#7f7f7f" fill-opacity="0.4"/>
<circle cx="161.2" cy="374.4" r="1.60" fill="#7f7f7f" fill-opacity="0.4"/>
<circle cx="264.6" cy="295.6" r="1.60" fill="#7f7f7f" fill-opacity="0.4"/>
<polyline points="57.8,416.4 161.2,375.2 264.6,301.2" fill="none" stroke="#bcbd22" stroke-width="1.15" stroke-opacity="0.3" stroke-linejoin="round" stroke-linecap="round"/>
<rect x="55.8" y="414.4" width="4.0" height="4.0" fill="#bcbd22" fill-opacity="0.4"/>
<rect x="159.2" y="373.2" width="4.0" height="4.0" fill="#bcbd22" fill-opacity="0.4"/>
<rect x="262.6" y="299.2" width="4.0" height="4.0" fill="#bcbd22" fill-opacity="0.4"/>
<polyline points="57.8,418.4 161.2,382.8" fill="none" stroke="#17becf" stroke-width="1.15" stroke-opacity="0.3" stroke-linejoin="round" stroke-linecap="round"/>
<rect x="55.8" y="416.4" width="4.0" height="4.0" fill="#17becf" fill-opacity="0.4"/>
<rect x="159.2" y="380.8" width="4.0" height="4.0" fill="#17becf" fill-opacity="0.4"/>
<polyline points="57.8,420.0 161.2,386.7 264.6,344.3 368.0,290.1" fill="none" stroke="#1f77b4" stroke-width="1.15" stroke-opacity="0.3" stroke-linejoin="round" stroke-linecap="round"/>
<rect x="55.8" y="418.0" width="4.0" height="4.0" fill="#1f77b4" fill-opacity="0.4"/>
<rect x="159.2" y="384.7" width="4.0" height="4.0" fill="#1f77b4" fill-opacity="0.4"/>
<rect x="262.6" y="342.3" width="4.0" height="4.0" fill="#1f77b4" fill-opacity="0.4"/>
<rect x="366.0" y="288.1" width="4.0" height="4.0" fill="#1f77b4" fill-opacity="0.4"/>
<polyline points="57.8,425.5 161.2,392.3 264.6,364.1" fill="none" stroke="#ff7f0e" stroke-width="1.15" stroke-opacity="0.3" stroke-linejoin="round" stroke-linecap="round"/>
<rect x="55.8" y="423.5" width="4.0" height="4.0" fill="#ff7f0e" fill-opacity="0.4"/>
<rect x="159.2" y="390.3" width="4.0" height="4.0" fill="#ff7f0e" fill-opacity="0.4"/>
<rect x="262.6" y="362.1" width="4.0" height="4.0" fill="#ff7f0e" fill-opacity="0.4"/>
<polyline points="57.8,424.3 161.2,389.1 264.6,338.0 368.0,271.1" fill="none" stroke="#d62728" stroke-width="1.15" stroke-opacity="0.3" stroke-linejoin="round" stroke-linecap="round"/>
<rect x="55.8" y="422.3" width="4.0" height="4.0" fill="#d62728" fill-opacity="0.4"/>
<rect x="159.2" y="387.1" width="4.0" height="4.0" fill="#d62728" fill-opacity="0.4"/>
<rect x="262.6" y="336.0" width="4.0" height="4.0" fill="#d62728" fill-opacity="0.4"/>
<rect x="366.0" y="269.1" width="4.0" height="4.0" fill="#d62728" fill-opacity="0.4"/>
<polyline points="57.8,427.9 161.2,399.4 264.6,367.7 368.0,332.1" fill="none" stroke="#9467bd" stroke-width="1.15" stroke-opacity="0.3" stroke-linejoin="round" stroke-linecap="round"/>
<rect x="55.8" y="425.9" width="4.0" height="4.0" fill="#9467bd" fill-opacity="0.4"/>
<rect x="159.2" y="397.4" width="4.0" height="4.0" fill="#9467bd" fill-opacity="0.4"/>
<rect x="262.6" y="365.7" width="4.0" height="4.0" fill="#9467bd" fill-opacity="0.4"/>
<rect x="366.0" y="330.1" width="4.0" height="4.0" fill="#9467bd" fill-opacity="0.4"/>
<polyline points="57.8,430.3 161.2,399.4 264.6,372.1 368.0,339.2" fill="none" stroke="#8c564b" stroke-width="1.15" stroke-opacity="0.3" stroke-linejoin="round" stroke-linecap="round"/>
<rect x="55.8" y="428.3" width="4.0" height="4.0" fill="#8c564b" fill-opacity="0.4"/>
<rect x="159.2" y="397.4" width="4.0" height="4.0" fill="#8c564b" fill-opacity="0.4"/>
<rect x="262.6" y="370.1" width="4.0" height="4.0" fill="#8c564b" fill-opacity="0.4"/>
<rect x="366.0" y="337.2" width="4.0" height="4.0" fill="#8c564b" fill-opacity="0.4"/>
<polyline points="57.8,433.8 161.2,394.6" fill="none" stroke="#e377c2" stroke-width="1.15" stroke-opacity="0.3" stroke-linejoin="round" stroke-linecap="round"/>
<rect x="55.8" y="431.8" width="4.0" height="4.0" fill="#e377c2" fill-opacity="0.4"/>
<rect x="159.2" y="392.6" width="4.0" height="4.0" fill="#e377c2" fill-opacity="0.4"/>
<polyline points="57.8,423.2 161.2,383.9 264.6,349.1 368.0,309.9" fill="none" stroke="#2ca02c" stroke-width="2.5" stroke-dasharray="8,5" stroke-linejoin="round" stroke-linecap="butt"/>
<rect x="55.4" y="420.8" width="4.8" height="4.8" fill="#2ca02c"/>
<rect x="158.8" y="381.5" width="4.8" height="4.8" fill="#2ca02c"/>
<rect x="262.2" y="346.7" width="4.8" height="4.8" fill="#2ca02c"/>
<rect x="365.6" y="307.5" width="4.8" height="4.8" fill="#2ca02c"/>
<polyline points="57.8,444.1 161.2,413.6 264.6,393.5 368.0,359.0" fill="none" stroke="#00ffff" stroke-width="1.6" stroke-linejoin="round" stroke-linecap="round"/>
<polygon points="57.8,440.8 59.8,444.1 57.8,447.5 55.8,444.1" fill="#00ffff"/>
<polygon points="161.2,410.3 163.1,413.6 161.2,417.0 159.2,413.6" fill="#00ffff"/>
<polygon points="264.6,390.1 266.6,393.5 264.6,396.8 262.7,393.5" fill="#00ffff"/>
<polygon points="368.0,355.6 370.0,359.0 368.0,362.4 366.1,359.0" fill="#00ffff"/>
<polyline points="57.8,439.0 161.2,414.0 264.6,386.3 368.0,341.2" fill="none" stroke="#ff00ff" stroke-width="2.6" stroke-linejoin="round" stroke-linecap="round"/>
<polygon points="57.8,435.4 59.9,439.0 57.8,442.6 55.7,439.0" fill="#ff00ff"/>
<polygon points="161.2,410.4 163.3,414.0 161.2,417.7 159.1,414.0" fill="#ff00ff"/>
<polygon points="264.6,382.7 266.7,386.3 264.6,390.0 262.5,386.3" fill="#ff00ff"/>
<polygon points="368.0,337.5 370.1,341.2 368.0,344.8 365.9,341.2" fill="#ff00ff"/>
</g>
<line x1="39.5" y1="438.2" x2="42.5" y2="438.2" stroke="#7a7a7a" stroke-width="0.8"/>
<text x="38.60" y="442.70" font-size="11.13" text-anchor="end" textLength="13.78" lengthAdjust="spacingAndGlyphs" fill="#1a1a1a">10</text>
<line x1="39.5" y1="398.6" x2="42.5" y2="398.6" stroke="#7a7a7a" stroke-width="0.8"/>
<text x="38.60" y="403.10" font-size="11.13" text-anchor="end" textLength="13.78" lengthAdjust="spacingAndGlyphs" fill="#1a1a1a">20</text>
<line x1="39.5" y1="359.0" x2="42.5" y2="359.0" stroke="#7a7a7a" stroke-width="0.8"/>
<text x="38.60" y="363.50" font-size="11.13" text-anchor="end" textLength="13.78" lengthAdjust="spacingAndGlyphs" fill="#1a1a1a">30</text>
<line x1="39.5" y1="319.4" x2="42.5" y2="319.4" stroke="#7a7a7a" stroke-width="0.8"/>
<text x="38.60" y="323.90" font-size="11.13" text-anchor="end" textLength="13.78" lengthAdjust="spacingAndGlyphs" fill="#1a1a1a">40</text>
<line x1="39.5" y1="279.8" x2="42.5" y2="279.8" stroke="#7a7a7a" stroke-width="0.8"/>
<text x="38.60" y="284.30" font-size="11.13" text-anchor="end" textLength="13.78" lengthAdjust="spacingAndGlyphs" fill="#1a1a1a">50</text>
<line x1="39.5" y1="240.2" x2="42.5" y2="240.2" stroke="#7a7a7a" stroke-width="0.8"/>
<text x="38.60" y="244.70" font-size="11.13" text-anchor="end" textLength="13.78" lengthAdjust="spacingAndGlyphs" fill="#1a1a1a">60</text>
<line x1="57.8" y1="454.3" x2="57.8" y2="457.3" stroke="#7a7a7a" stroke-width="0.8"/>
<text x="57.80" y="467.80" font-size="11.13" text-anchor="middle" textLength="6.89" lengthAdjust="spacingAndGlyphs" fill="#1a1a1a">1</text>
<line x1="161.2" y1="454.3" x2="161.2" y2="457.3" stroke="#7a7a7a" stroke-width="0.8"/>
<text x="161.20" y="467.80" font-size="11.13" text-anchor="middle" textLength="6.89" lengthAdjust="spacingAndGlyphs" fill="#1a1a1a">2</text>
<line x1="264.6" y1="454.3" x2="264.6" y2="457.3" stroke="#7a7a7a" stroke-width="0.8"/>
<text x="264.60" y="467.80" font-size="11.13" text-anchor="middle" textLength="6.89" lengthAdjust="spacingAndGlyphs" fill="#1a1a1a">3</text>
<line x1="368.0" y1="454.3" x2="368.0" y2="457.3" stroke="#7a7a7a" stroke-width="0.8"/>
<text x="368.00" y="467.80" font-size="11.13" text-anchor="middle" textLength="6.89" lengthAdjust="spacingAndGlyphs" fill="#1a1a1a">4</text>
<text x="42.90" y="218.60" font-size="16.43" text-anchor="start" textLength="340.00" lengthAdjust="spacingAndGlyphs" fill="#1a1a1a">Comparison of SIMLR with the CDC models</text>
<text x="176.50" y="480.80" font-size="11.23" text-anchor="start" textLength="73.74" lengthAdjust="spacingAndGlyphs" fill="#1a1a1a">Weeks ahead</text>
<text transform="translate(21.20,357.80) rotate(-90)" font-size="13.60" textLength="36.00" lengthAdjust="spacingAndGlyphs" fill="#1a1a1a">MAPE</text>
<text x="270.20" y="502.00" font-size="10.61" text-anchor="middle" textLength="15.55" lengthAdjust="spacingAndGlyphs" font-weight="bold" fill="#1a1a1a">(c)</text>
<rect x="405.5" y="227.0" width="133.0" height="243.3" rx="1.5" fill="#ffffff" stroke="#dcdcdc" stroke-width="0.8"/>
<line x1="408.2" y1="233.2" x2="426.0" y2="233.2" stroke="#1f77b4" stroke-width="0.9" stroke-opacity="0.4"/>
<circle cx="417.0" cy="233.2" r="1.70" fill="#1f77b4" fill-opacity="0.5"/>
<text x="432.30" y="236.40" font-size="8.79" text-anchor="start" textLength="96.85" lengthAdjust="spacingAndGlyphs" fill="#1a1a1a">CovidAnalytics-DELPHI</text>
<line x1="408.2" y1="246.0" x2="426.0" y2="246.0" stroke="#ff7f0e" stroke-width="0.9" stroke-opacity="0.4"/>
<circle cx="417.0" cy="246.0" r="1.70" fill="#ff7f0e" fill-opacity="0.5"/>
<text x="432.30" y="249.17" font-size="8.79" text-anchor="start" textLength="78.52" lengthAdjust="spacingAndGlyphs" fill="#1a1a1a">UMich-RidgeTfReg</text>
<line x1="408.2" y1="258.7" x2="426.0" y2="258.7" stroke="#2ca02c" stroke-width="0.9" stroke-opacity="0.4"/>
<circle cx="417.0" cy="258.7" r="1.70" fill="#2ca02c" fill-opacity="0.5"/>
<text x="432.30" y="261.94" font-size="8.79" text-anchor="start" textLength="82.36" lengthAdjust="spacingAndGlyphs" fill="#1a1a1a">IowaStateLW-STEM</text>
<line x1="408.2" y1="271.5" x2="426.0" y2="271.5" stroke="#d62728" stroke-width="0.9" stroke-opacity="0.4"/>
<circle cx="417.0" cy="271.5" r="1.70" fill="#d62728" fill-opacity="0.5"/>
<text x="432.30" y="274.71" font-size="8.79" text-anchor="start" textLength="70.39" lengthAdjust="spacingAndGlyphs" fill="#1a1a1a">CU-scenario_low</text>
<line x1="408.2" y1="284.3" x2="426.0" y2="284.3" stroke="#9467bd" stroke-width="0.9" stroke-opacity="0.4"/>
<circle cx="417.0" cy="284.3" r="1.70" fill="#9467bd" fill-opacity="0.5"/>
<text x="432.30" y="287.48" font-size="8.79" text-anchor="start" textLength="57.44" lengthAdjust="spacingAndGlyphs" fill="#1a1a1a">CU-nochange</text>
<line x1="408.2" y1="297.0" x2="426.0" y2="297.0" stroke="#8c564b" stroke-width="0.9" stroke-opacity="0.4"/>
<circle cx="417.0" cy="297.0" r="1.70" fill="#8c564b" fill-opacity="0.5"/>
<text x="432.30" y="300.25" font-size="8.79" text-anchor="start" textLength="40.72" lengthAdjust="spacingAndGlyphs" fill="#1a1a1a">CU-select</text>
<line x1="408.2" y1="309.8" x2="426.0" y2="309.8" stroke="#e377c2" stroke-width="0.9" stroke-opacity="0.4"/>
<circle cx="417.0" cy="309.8" r="1.70" fill="#e377c2" fill-opacity="0.5"/>
<text x="432.30" y="313.02" font-size="8.79" text-anchor="start" textLength="75.80" lengthAdjust="spacingAndGlyphs" fill="#1a1a1a">LANL-GrowthRate</text>
<line x1="408.2" y1="322.6" x2="426.0" y2="322.6" stroke="#7f7f7f" stroke-width="0.9" stroke-opacity="0.4"/>
<circle cx="417.0" cy="322.6" r="1.70" fill="#7f7f7f" fill-opacity="0.5"/>
<text x="432.30" y="325.79" font-size="8.79" text-anchor="start" textLength="71.93" lengthAdjust="spacingAndGlyphs" fill="#1a1a1a">CU-scenario_mid</text>
<line x1="408.2" y1="335.4" x2="426.0" y2="335.4" stroke="#bcbd22" stroke-width="0.9" stroke-opacity="0.4"/>
<rect x="415.0" y="333.4" width="4.0" height="4.0" fill="#bcbd22" fill-opacity="0.5"/>
<text x="432.30" y="338.56" font-size="8.79" text-anchor="start" textLength="74.44" lengthAdjust="spacingAndGlyphs" fill="#1a1a1a">CU-scenario_high</text>
<line x1="408.2" y1="348.1" x2="426.0" y2="348.1" stroke="#17becf" stroke-width="0.9" stroke-opacity="0.4"/>
<rect x="415.0" y="346.1" width="4.0" height="4.0" fill="#17becf" fill-opacity="0.5"/>
<text x="432.30" y="351.33" font-size="8.79" text-anchor="start" textLength="44.59" lengthAdjust="spacingAndGlyphs" fill="#1a1a1a">CEID-Walk</text>
<line x1="408.2" y1="360.9" x2="426.0" y2="360.9" stroke="#1f77b4" stroke-width="0.9" stroke-opacity="0.4"/>
<rect x="415.0" y="358.9" width="4.0" height="4.0" fill="#1f77b4" fill-opacity="0.5"/>
<text x="432.30" y="364.10" font-size="8.79" text-anchor="start" textLength="102.41" lengthAdjust="spacingAndGlyphs" fill="#1a1a1a">Columbia_UNC-SurvCon</text>
<line x1="408.2" y1="373.7" x2="426.0" y2="373.7" stroke="#ff7f0e" stroke-width="0.9" stroke-opacity="0.4"/>
<rect x="415.0" y="371.7" width="4.0" height="4.0" fill="#ff7f0e" fill-opacity="0.5"/>
<text x="432.30" y="376.87" font-size="8.79" text-anchor="start" textLength="102.75" lengthAdjust="spacingAndGlyphs" fill="#1a1a1a">OliverWyman-Navigator</text>
<line x1="408.4" y1="386.4" x2="426.2" y2="386.4" stroke="#2ca02c" stroke-width="2.4"/>
<rect x="414.9" y="384.0" width="4.8" height="4.8" fill="#2ca02c"/>
<text x="432.30" y="389.64" font-size="8.79" text-anchor="start" textLength="82.83" lengthAdjust="spacingAndGlyphs" fill="#1a1a1a">COVIDhub-baseline</text>
<line x1="408.2" y1="399.2" x2="426.0" y2="399.2" stroke="#d62728" stroke-width="0.9" stroke-opacity="0.4"/>
<rect x="415.0" y="397.2" width="4.0" height="4.0" fill="#d62728" fill-opacity="0.5"/>
<text x="432.30" y="402.41" font-size="8.79" text-anchor="start" textLength="54.75" lengthAdjust="spacingAndGlyphs" fill="#1a1a1a">Karlen-pypm</text>
<line x1="408.2" y1="412.0" x2="426.0" y2="412.0" stroke="#9467bd" stroke-width="0.9" stroke-opacity="0.4"/>
<rect x="415.0" y="410.0" width="4.0" height="4.0" fill="#9467bd" fill-opacity="0.5"/>
<text x="432.30" y="415.18" font-size="8.79" text-anchor="start" textLength="64.15" lengthAdjust="spacingAndGlyphs" fill="#1a1a1a">USC-SI_kJalpha</text>
<line x1="408.2" y1="424.8" x2="426.0" y2="424.8" stroke="#8c564b" stroke-width="0.9" stroke-opacity="0.4"/>
<rect x="415.0" y="422.8" width="4.0" height="4.0" fill="#8c564b" fill-opacity="0.5"/>
<text x="432.30" y="427.95" font-size="8.79" text-anchor="start" textLength="88.80" lengthAdjust="spacingAndGlyphs" fill="#1a1a1a">COVIDhub-ensemble</text>
<line x1="408.2" y1="437.5" x2="426.0" y2="437.5" stroke="#e377c2" stroke-width="0.9" stroke-opacity="0.4"/>
<rect x="415.0" y="435.5" width="4.0" height="4.0" fill="#e377c2" fill-opacity="0.5"/>
<text x="432.30" y="440.72" font-size="8.79" text-anchor="start" textLength="82.29" lengthAdjust="spacingAndGlyphs" fill="#1a1a1a">Geneva-DetGrowth</text>
<line x1="408.4" y1="450.3" x2="426.2" y2="450.3" stroke="#ff00ff" stroke-width="2.4"/>
<polygon points="417.3,446.6 419.4,450.3 417.3,453.9 415.2,450.3" fill="#ff00ff"/>
<text x="432.30" y="453.49" font-size="8.79" text-anchor="start" textLength="26.03" lengthAdjust="spacingAndGlyphs" fill="#1a1a1a">SIMLR</text>
<line x1="408.4" y1="463.1" x2="426.2" y2="463.1" stroke="#00ffff" stroke-width="1.5"/>
<polygon points="417.3,459.7 419.2,463.1 417.3,466.4 415.4,463.1" fill="#00ffff"/>
<text x="432.30" y="466.26" font-size="8.79" text-anchor="start" textLength="41.55" lengthAdjust="spacingAndGlyphs" fill="#1a1a1a">LNQ-ens1</text>
</svg>
</body></html>
